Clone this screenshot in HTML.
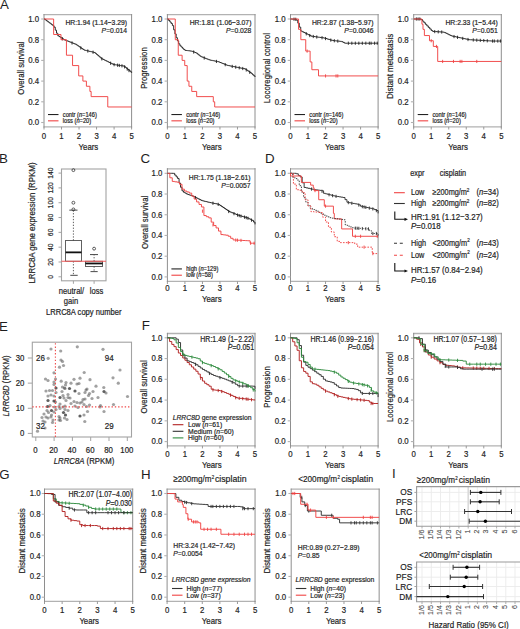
<!DOCTYPE html><html><head><meta charset="utf-8"><style>html,body{margin:0;padding:0;background:#fff;}svg{display:block;}text{font-family:"Liberation Sans", sans-serif;stroke:#1e1e1e;stroke-width:0.18px;paint-order:stroke;}</style></head><body>
<svg width="520" height="629" viewBox="0 0 520 629">
<rect width="520" height="629" fill="#fff"/>
<text font-size="13.3" text-anchor="start" fill="#1e1e1e" transform="translate(0 9.3) scale(1 1)" style="stroke-width:0">A</text>
<text font-size="13.3" text-anchor="start" fill="#1e1e1e" transform="translate(-1 163.4) scale(1 1)" style="stroke-width:0">B</text>
<text font-size="13.3" text-anchor="start" fill="#1e1e1e" transform="translate(140.4 163.1) scale(1 1)" style="stroke-width:0">C</text>
<text font-size="13.3" text-anchor="start" fill="#1e1e1e" transform="translate(265 163.1) scale(1 1)" style="stroke-width:0">D</text>
<text font-size="13.3" text-anchor="start" fill="#1e1e1e" transform="translate(-1 330.8) scale(1 1)" style="stroke-width:0">E</text>
<text font-size="13.3" text-anchor="start" fill="#1e1e1e" transform="translate(141.8 329.9) scale(1 1)" style="stroke-width:0">F</text>
<text font-size="13.3" text-anchor="start" fill="#1e1e1e" transform="translate(-0.7 478.5) scale(1 1)" style="stroke-width:0">G</text>
<text font-size="13.3" text-anchor="start" fill="#1e1e1e" transform="translate(140.9 478.6) scale(1 1)" style="stroke-width:0">H</text>
<text font-size="13.3" text-anchor="start" fill="#1e1e1e" transform="translate(392.1 477.9) scale(1 1)" style="stroke-width:0">I</text>
<line x1="43.5" y1="14.7" x2="132.1" y2="14.7" stroke="#b2b2b2" stroke-width="1.3"/>
<line x1="43.5" y1="126.9" x2="132.1" y2="126.9" stroke="#b2b2b2" stroke-width="1.3"/>
<line x1="44" y1="14.1" x2="44" y2="127.5" stroke="#8e8e8e" stroke-width="1.0"/>
<line x1="131.6" y1="14.1" x2="131.6" y2="127.5" stroke="#8e8e8e" stroke-width="1.0"/>
<line x1="41.2" y1="122.5" x2="44" y2="122.5" stroke="#b2b2b2" stroke-width="1.1"/>
<text font-size="7.8" text-anchor="end" fill="#1e1e1e" transform="translate(39 125.3) scale(1 1.18)">0.0</text>
<line x1="41.2" y1="101.8" x2="44" y2="101.8" stroke="#b2b2b2" stroke-width="1.1"/>
<text font-size="7.8" text-anchor="end" fill="#1e1e1e" transform="translate(39 104.6) scale(1 1.18)">0.2</text>
<line x1="41.2" y1="81.1" x2="44" y2="81.1" stroke="#b2b2b2" stroke-width="1.1"/>
<text font-size="7.8" text-anchor="end" fill="#1e1e1e" transform="translate(39 83.9) scale(1 1.18)">0.4</text>
<line x1="41.2" y1="60.4" x2="44" y2="60.4" stroke="#b2b2b2" stroke-width="1.1"/>
<text font-size="7.8" text-anchor="end" fill="#1e1e1e" transform="translate(39 63.2) scale(1 1.18)">0.6</text>
<line x1="41.2" y1="39.7" x2="44" y2="39.7" stroke="#b2b2b2" stroke-width="1.1"/>
<text font-size="7.8" text-anchor="end" fill="#1e1e1e" transform="translate(39 42.5) scale(1 1.18)">0.8</text>
<line x1="41.2" y1="19" x2="44" y2="19" stroke="#b2b2b2" stroke-width="1.1"/>
<text font-size="7.8" text-anchor="end" fill="#1e1e1e" transform="translate(39 21.8) scale(1 1.18)">1.0</text>
<line x1="44" y1="126.9" x2="44" y2="129.5" stroke="#8e8e8e" stroke-width="0.9"/>
<text font-size="7.8" text-anchor="middle" fill="#1e1e1e" transform="translate(44 139.1) scale(1 1.18)">0</text>
<line x1="61.52" y1="126.9" x2="61.52" y2="129.5" stroke="#8e8e8e" stroke-width="0.9"/>
<text font-size="7.8" text-anchor="middle" fill="#1e1e1e" transform="translate(61.52 139.1) scale(1 1.18)">1</text>
<line x1="79.04" y1="126.9" x2="79.04" y2="129.5" stroke="#8e8e8e" stroke-width="0.9"/>
<text font-size="7.8" text-anchor="middle" fill="#1e1e1e" transform="translate(79.04 139.1) scale(1 1.18)">2</text>
<line x1="96.56" y1="126.9" x2="96.56" y2="129.5" stroke="#8e8e8e" stroke-width="0.9"/>
<text font-size="7.8" text-anchor="middle" fill="#1e1e1e" transform="translate(96.56 139.1) scale(1 1.18)">3</text>
<line x1="114.08" y1="126.9" x2="114.08" y2="129.5" stroke="#8e8e8e" stroke-width="0.9"/>
<text font-size="7.8" text-anchor="middle" fill="#1e1e1e" transform="translate(114.08 139.1) scale(1 1.18)">4</text>
<line x1="131.6" y1="126.9" x2="131.6" y2="129.5" stroke="#8e8e8e" stroke-width="0.9"/>
<text font-size="7.8" text-anchor="middle" fill="#1e1e1e" transform="translate(131.6 139.1) scale(1 1.18)">5</text>
<text font-size="7.8" text-anchor="middle" fill="#1e1e1e" transform="translate(88.4 149.7) scale(1 1.18)">Years</text>
<text font-size="7.8" text-anchor="middle" fill="#1e1e1e" transform="translate(23.7 68.05) rotate(-90) scale(1 1.1)">Overall survival</text>
<line x1="166.9" y1="14.7" x2="255.5" y2="14.7" stroke="#b2b2b2" stroke-width="1.3"/>
<line x1="166.9" y1="126.9" x2="255.5" y2="126.9" stroke="#b2b2b2" stroke-width="1.3"/>
<line x1="167.4" y1="14.1" x2="167.4" y2="127.5" stroke="#8e8e8e" stroke-width="1.0"/>
<line x1="255" y1="14.1" x2="255" y2="127.5" stroke="#8e8e8e" stroke-width="1.0"/>
<line x1="164.6" y1="122.5" x2="167.4" y2="122.5" stroke="#b2b2b2" stroke-width="1.1"/>
<text font-size="7.8" text-anchor="end" fill="#1e1e1e" transform="translate(162.4 125.3) scale(1 1.18)">0.0</text>
<line x1="164.6" y1="101.8" x2="167.4" y2="101.8" stroke="#b2b2b2" stroke-width="1.1"/>
<text font-size="7.8" text-anchor="end" fill="#1e1e1e" transform="translate(162.4 104.6) scale(1 1.18)">0.2</text>
<line x1="164.6" y1="81.1" x2="167.4" y2="81.1" stroke="#b2b2b2" stroke-width="1.1"/>
<text font-size="7.8" text-anchor="end" fill="#1e1e1e" transform="translate(162.4 83.9) scale(1 1.18)">0.4</text>
<line x1="164.6" y1="60.4" x2="167.4" y2="60.4" stroke="#b2b2b2" stroke-width="1.1"/>
<text font-size="7.8" text-anchor="end" fill="#1e1e1e" transform="translate(162.4 63.2) scale(1 1.18)">0.6</text>
<line x1="164.6" y1="39.7" x2="167.4" y2="39.7" stroke="#b2b2b2" stroke-width="1.1"/>
<text font-size="7.8" text-anchor="end" fill="#1e1e1e" transform="translate(162.4 42.5) scale(1 1.18)">0.8</text>
<line x1="164.6" y1="19" x2="167.4" y2="19" stroke="#b2b2b2" stroke-width="1.1"/>
<text font-size="7.8" text-anchor="end" fill="#1e1e1e" transform="translate(162.4 21.8) scale(1 1.18)">1.0</text>
<line x1="167.4" y1="126.9" x2="167.4" y2="129.5" stroke="#8e8e8e" stroke-width="0.9"/>
<text font-size="7.8" text-anchor="middle" fill="#1e1e1e" transform="translate(167.4 139.1) scale(1 1.18)">0</text>
<line x1="184.92" y1="126.9" x2="184.92" y2="129.5" stroke="#8e8e8e" stroke-width="0.9"/>
<text font-size="7.8" text-anchor="middle" fill="#1e1e1e" transform="translate(184.92 139.1) scale(1 1.18)">1</text>
<line x1="202.44" y1="126.9" x2="202.44" y2="129.5" stroke="#8e8e8e" stroke-width="0.9"/>
<text font-size="7.8" text-anchor="middle" fill="#1e1e1e" transform="translate(202.44 139.1) scale(1 1.18)">2</text>
<line x1="219.96" y1="126.9" x2="219.96" y2="129.5" stroke="#8e8e8e" stroke-width="0.9"/>
<text font-size="7.8" text-anchor="middle" fill="#1e1e1e" transform="translate(219.96 139.1) scale(1 1.18)">3</text>
<line x1="237.48" y1="126.9" x2="237.48" y2="129.5" stroke="#8e8e8e" stroke-width="0.9"/>
<text font-size="7.8" text-anchor="middle" fill="#1e1e1e" transform="translate(237.48 139.1) scale(1 1.18)">4</text>
<line x1="255" y1="126.9" x2="255" y2="129.5" stroke="#8e8e8e" stroke-width="0.9"/>
<text font-size="7.8" text-anchor="middle" fill="#1e1e1e" transform="translate(255 139.1) scale(1 1.18)">5</text>
<text font-size="7.8" text-anchor="middle" fill="#1e1e1e" transform="translate(211.8 149.7) scale(1 1.18)">Years</text>
<text font-size="7.8" text-anchor="middle" fill="#1e1e1e" transform="translate(147.1 68.05) rotate(-90) scale(1 1.1)">Progression</text>
<line x1="290" y1="14.7" x2="378.6" y2="14.7" stroke="#b2b2b2" stroke-width="1.3"/>
<line x1="290" y1="126.9" x2="378.6" y2="126.9" stroke="#b2b2b2" stroke-width="1.3"/>
<line x1="290.5" y1="14.1" x2="290.5" y2="127.5" stroke="#8e8e8e" stroke-width="1.0"/>
<line x1="378.1" y1="14.1" x2="378.1" y2="127.5" stroke="#8e8e8e" stroke-width="1.0"/>
<line x1="287.7" y1="122.5" x2="290.5" y2="122.5" stroke="#b2b2b2" stroke-width="1.1"/>
<text font-size="7.8" text-anchor="end" fill="#1e1e1e" transform="translate(285.5 125.3) scale(1 1.18)">0.0</text>
<line x1="287.7" y1="101.8" x2="290.5" y2="101.8" stroke="#b2b2b2" stroke-width="1.1"/>
<text font-size="7.8" text-anchor="end" fill="#1e1e1e" transform="translate(285.5 104.6) scale(1 1.18)">0.2</text>
<line x1="287.7" y1="81.1" x2="290.5" y2="81.1" stroke="#b2b2b2" stroke-width="1.1"/>
<text font-size="7.8" text-anchor="end" fill="#1e1e1e" transform="translate(285.5 83.9) scale(1 1.18)">0.4</text>
<line x1="287.7" y1="60.4" x2="290.5" y2="60.4" stroke="#b2b2b2" stroke-width="1.1"/>
<text font-size="7.8" text-anchor="end" fill="#1e1e1e" transform="translate(285.5 63.2) scale(1 1.18)">0.6</text>
<line x1="287.7" y1="39.7" x2="290.5" y2="39.7" stroke="#b2b2b2" stroke-width="1.1"/>
<text font-size="7.8" text-anchor="end" fill="#1e1e1e" transform="translate(285.5 42.5) scale(1 1.18)">0.8</text>
<line x1="287.7" y1="19" x2="290.5" y2="19" stroke="#b2b2b2" stroke-width="1.1"/>
<text font-size="7.8" text-anchor="end" fill="#1e1e1e" transform="translate(285.5 21.8) scale(1 1.18)">1.0</text>
<line x1="290.5" y1="126.9" x2="290.5" y2="129.5" stroke="#8e8e8e" stroke-width="0.9"/>
<text font-size="7.8" text-anchor="middle" fill="#1e1e1e" transform="translate(290.5 139.1) scale(1 1.18)">0</text>
<line x1="308.02" y1="126.9" x2="308.02" y2="129.5" stroke="#8e8e8e" stroke-width="0.9"/>
<text font-size="7.8" text-anchor="middle" fill="#1e1e1e" transform="translate(308.02 139.1) scale(1 1.18)">1</text>
<line x1="325.54" y1="126.9" x2="325.54" y2="129.5" stroke="#8e8e8e" stroke-width="0.9"/>
<text font-size="7.8" text-anchor="middle" fill="#1e1e1e" transform="translate(325.54 139.1) scale(1 1.18)">2</text>
<line x1="343.06" y1="126.9" x2="343.06" y2="129.5" stroke="#8e8e8e" stroke-width="0.9"/>
<text font-size="7.8" text-anchor="middle" fill="#1e1e1e" transform="translate(343.06 139.1) scale(1 1.18)">3</text>
<line x1="360.58" y1="126.9" x2="360.58" y2="129.5" stroke="#8e8e8e" stroke-width="0.9"/>
<text font-size="7.8" text-anchor="middle" fill="#1e1e1e" transform="translate(360.58 139.1) scale(1 1.18)">4</text>
<line x1="378.1" y1="126.9" x2="378.1" y2="129.5" stroke="#8e8e8e" stroke-width="0.9"/>
<text font-size="7.8" text-anchor="middle" fill="#1e1e1e" transform="translate(378.1 139.1) scale(1 1.18)">5</text>
<text font-size="7.8" text-anchor="middle" fill="#1e1e1e" transform="translate(334.9 149.7) scale(1 1.18)">Years</text>
<text font-size="7.8" text-anchor="middle" fill="#1e1e1e" transform="translate(270.2 68.05) rotate(-90) scale(1 1.1)">Locoregional control</text>
<line x1="413.2" y1="14.7" x2="501.8" y2="14.7" stroke="#b2b2b2" stroke-width="1.3"/>
<line x1="413.2" y1="126.9" x2="501.8" y2="126.9" stroke="#b2b2b2" stroke-width="1.3"/>
<line x1="413.7" y1="14.1" x2="413.7" y2="127.5" stroke="#8e8e8e" stroke-width="1.0"/>
<line x1="501.3" y1="14.1" x2="501.3" y2="127.5" stroke="#8e8e8e" stroke-width="1.0"/>
<line x1="410.9" y1="122.5" x2="413.7" y2="122.5" stroke="#b2b2b2" stroke-width="1.1"/>
<text font-size="7.8" text-anchor="end" fill="#1e1e1e" transform="translate(408.7 125.3) scale(1 1.18)">0.0</text>
<line x1="410.9" y1="101.8" x2="413.7" y2="101.8" stroke="#b2b2b2" stroke-width="1.1"/>
<text font-size="7.8" text-anchor="end" fill="#1e1e1e" transform="translate(408.7 104.6) scale(1 1.18)">0.2</text>
<line x1="410.9" y1="81.1" x2="413.7" y2="81.1" stroke="#b2b2b2" stroke-width="1.1"/>
<text font-size="7.8" text-anchor="end" fill="#1e1e1e" transform="translate(408.7 83.9) scale(1 1.18)">0.4</text>
<line x1="410.9" y1="60.4" x2="413.7" y2="60.4" stroke="#b2b2b2" stroke-width="1.1"/>
<text font-size="7.8" text-anchor="end" fill="#1e1e1e" transform="translate(408.7 63.2) scale(1 1.18)">0.6</text>
<line x1="410.9" y1="39.7" x2="413.7" y2="39.7" stroke="#b2b2b2" stroke-width="1.1"/>
<text font-size="7.8" text-anchor="end" fill="#1e1e1e" transform="translate(408.7 42.5) scale(1 1.18)">0.8</text>
<line x1="410.9" y1="19" x2="413.7" y2="19" stroke="#b2b2b2" stroke-width="1.1"/>
<text font-size="7.8" text-anchor="end" fill="#1e1e1e" transform="translate(408.7 21.8) scale(1 1.18)">1.0</text>
<line x1="413.7" y1="126.9" x2="413.7" y2="129.5" stroke="#8e8e8e" stroke-width="0.9"/>
<text font-size="7.8" text-anchor="middle" fill="#1e1e1e" transform="translate(413.7 139.1) scale(1 1.18)">0</text>
<line x1="431.22" y1="126.9" x2="431.22" y2="129.5" stroke="#8e8e8e" stroke-width="0.9"/>
<text font-size="7.8" text-anchor="middle" fill="#1e1e1e" transform="translate(431.22 139.1) scale(1 1.18)">1</text>
<line x1="448.74" y1="126.9" x2="448.74" y2="129.5" stroke="#8e8e8e" stroke-width="0.9"/>
<text font-size="7.8" text-anchor="middle" fill="#1e1e1e" transform="translate(448.74 139.1) scale(1 1.18)">2</text>
<line x1="466.26" y1="126.9" x2="466.26" y2="129.5" stroke="#8e8e8e" stroke-width="0.9"/>
<text font-size="7.8" text-anchor="middle" fill="#1e1e1e" transform="translate(466.26 139.1) scale(1 1.18)">3</text>
<line x1="483.78" y1="126.9" x2="483.78" y2="129.5" stroke="#8e8e8e" stroke-width="0.9"/>
<text font-size="7.8" text-anchor="middle" fill="#1e1e1e" transform="translate(483.78 139.1) scale(1 1.18)">4</text>
<line x1="501.3" y1="126.9" x2="501.3" y2="129.5" stroke="#8e8e8e" stroke-width="0.9"/>
<text font-size="7.8" text-anchor="middle" fill="#1e1e1e" transform="translate(501.3 139.1) scale(1 1.18)">5</text>
<text font-size="7.8" text-anchor="middle" fill="#1e1e1e" transform="translate(458.1 149.7) scale(1 1.18)">Years</text>
<text font-size="8" text-anchor="middle" fill="#1e1e1e" transform="translate(393.4 66.35) rotate(-90) scale(1 1.1)">Distant metastasis</text>
<path d="M44,19H45.25V19.94H46.5V20.88H47.75V21.82H49.01V22.76H50.26V23.7H51.51V24.65H52.76V25.59H54.01V27.15H55.26V30.18H56.51V33.2H57.77V35.74H59.02V36.56H60.27V37.38H61.52V38.2H62.77V39.03H64.02V39.79H65.27V40.29H66.53V40.78H67.78V41.28H69.03V41.78H70.28V42.27H71.53V42.77H72.78V43.27H74.03V43.76H75.29V44.26H76.54V45.05H77.79V45.91H79.04V46.78H80.29V47.64H81.54V48.51H82.79V49.38H84.05V50.12H85.3V50.41H86.55V50.71H87.8V51H89.05V51.3H90.3V51.59H91.55V51.89H92.81V52.19H94.06V52.48H95.31V53.44H96.56V54.53H97.81V55.63H99.06V56.73H100.31V57.83H101.57V58.76H102.82V59.38H104.07V60H105.32V60.62H106.57V61.25H107.82V61.87H109.07V62.49H110.33V63.11H111.58V63.73H112.83V64.35H114.08V64.67H115.33V64.85H116.58V65.04H117.83V65.22H119.09V65.41H120.34V65.59H121.59V65.78H122.84V65.96H124.09V66.41H125.34V67.48H126.59V68.55H127.85V69.62H129.1V70.68H130.35V71.75H131.6V72.82" fill="none" stroke="#222" stroke-width="0.95" opacity="1"/>
<line x1="62.4" y1="37.18" x2="62.4" y2="40.38" stroke="#222" stroke-width="0.9"/>
<line x1="72.03" y1="41.37" x2="72.03" y2="44.57" stroke="#222" stroke-width="0.9"/>
<line x1="80.79" y1="46.39" x2="80.79" y2="49.59" stroke="#222" stroke-width="0.9"/>
<line x1="87.8" y1="49.4" x2="87.8" y2="52.6" stroke="#222" stroke-width="0.9"/>
<line x1="93.06" y1="50.64" x2="93.06" y2="53.84" stroke="#222" stroke-width="0.9"/>
<line x1="101.82" y1="57.28" x2="101.82" y2="60.48" stroke="#222" stroke-width="0.9"/>
<line x1="110.58" y1="61.63" x2="110.58" y2="64.83" stroke="#222" stroke-width="0.9"/>
<line x1="114.08" y1="63.07" x2="114.08" y2="66.27" stroke="#222" stroke-width="0.9"/>
<line x1="117.58" y1="63.59" x2="117.58" y2="66.79" stroke="#222" stroke-width="0.9"/>
<line x1="119.34" y1="63.85" x2="119.34" y2="67.05" stroke="#222" stroke-width="0.9"/>
<line x1="121.96" y1="64.23" x2="121.96" y2="67.43" stroke="#222" stroke-width="0.9"/>
<line x1="124.59" y1="65.24" x2="124.59" y2="68.44" stroke="#222" stroke-width="0.9"/>
<line x1="127.22" y1="67.48" x2="127.22" y2="70.68" stroke="#222" stroke-width="0.9"/>
<line x1="128.97" y1="68.98" x2="128.97" y2="72.18" stroke="#222" stroke-width="0.9"/>
<path d="M44,19H53.64V34.53H60.99V39.7H66.43V55.22H72.56V65.57H78.69V75.92H82.89V81.1H86.4V86.28H89.9V91.45H91.13V96.62H107.77V106.97H131.6" fill="none" stroke="#f04444" stroke-width="0.95" opacity="1"/>
<text font-size="6.8" text-anchor="end" fill="#1e1e1e" transform="translate(127.1 25) scale(1 1.18)">HR:1.94 (1.14−3.29)</text>
<text font-size="6.8" text-anchor="end" fill="#1e1e1e" transform="translate(127.1 33.2) scale(1 1.18)"><tspan font-style="italic">P</tspan>=0.014</text>
<line x1="48" y1="114.53" x2="58.5" y2="114.53" stroke="#222" stroke-width="1.1"/>
<text font-size="5.7" text-anchor="start" fill="#1e1e1e" transform="translate(62.8 116.53) scale(1 1.18)">contr (<tspan font-style="italic">n</tspan>=146)</text>
<line x1="48" y1="120.83" x2="58.5" y2="120.83" stroke="#f04444" stroke-width="1.1"/>
<text font-size="5.7" text-anchor="start" fill="#1e1e1e" transform="translate(62.8 122.83) scale(1 1.18)">loss (<tspan font-style="italic">n</tspan>=20)</text>
<path d="M167.4,19H168.65V20.51H169.9V22.01H171.15V23.52H172.41V25.61H173.66V29.8H174.91V33.94H176.16V37.71H177.41V40.9H178.66V43.85H179.91V45.76H181.17V47.01H182.42V48.27H183.67V49.53H184.92V50.33H186.17V50.49H187.42V50.65H188.67V50.81H189.93V50.97H191.18V51.14H192.43V51.53H193.68V52.03H194.93V52.54H196.18V53.13H197.43V54.13H198.69V55.14H199.94V56.15H201.19V56.8H202.44V57.3H203.69V57.79H204.94V58.28H206.19V58.77H207.45V59.27H208.7V59.76H209.95V60.12H211.2V60.37H212.45V60.62H213.7V60.88H214.95V61.13H216.21V61.38H217.46V61.63H218.71V62.02H219.96V62.53H221.21V63.03H222.46V63.54H223.71V64.05H224.97V64.56H226.22V65.06H227.47V65.47H228.72V65.72H229.97V65.97H231.22V66.22H232.47V66.47H233.73V66.73H234.98V66.98H236.23V67.23H237.48V67.47H238.73V67.72H239.98V67.97H241.23V68.21H242.49V68.46H243.74V68.7H244.99V69.1H246.24V69.94H247.49V70.78H248.74V71.62H249.99V72.47H251.25V73.59H252.5V74.72H253.75V75.84H255V76.96" fill="none" stroke="#222" stroke-width="0.95" opacity="1"/>
<line x1="193.68" y1="50.43" x2="193.68" y2="53.63" stroke="#222" stroke-width="0.9"/>
<line x1="204.19" y1="56.38" x2="204.19" y2="59.59" stroke="#222" stroke-width="0.9"/>
<line x1="216.46" y1="59.83" x2="216.46" y2="63.03" stroke="#222" stroke-width="0.9"/>
<line x1="225.22" y1="63.06" x2="225.22" y2="66.26" stroke="#222" stroke-width="0.9"/>
<line x1="232.22" y1="64.82" x2="232.22" y2="68.02" stroke="#222" stroke-width="0.9"/>
<line x1="235.73" y1="65.53" x2="235.73" y2="68.73" stroke="#222" stroke-width="0.9"/>
<line x1="239.23" y1="66.22" x2="239.23" y2="69.42" stroke="#222" stroke-width="0.9"/>
<line x1="242.74" y1="66.91" x2="242.74" y2="70.11" stroke="#222" stroke-width="0.9"/>
<line x1="246.24" y1="68.34" x2="246.24" y2="71.54" stroke="#222" stroke-width="0.9"/>
<line x1="249.74" y1="70.69" x2="249.74" y2="73.89" stroke="#222" stroke-width="0.9"/>
<path d="M167.4,19H175.28V39.7H178.26V55.22H182.12V60.4H184.74V65.57H187.2V81.1H188.95V86.28H191.75V91.45H196.66V96.62H213.3V101.8H214.7V106.97H255" fill="none" stroke="#f04444" stroke-width="0.95" opacity="1"/>
<text font-size="6.8" text-anchor="end" fill="#1e1e1e" transform="translate(251.4 25) scale(1 1.18)">HR:1.81 (1.06−3.07)</text>
<text font-size="6.8" text-anchor="end" fill="#1e1e1e" transform="translate(251.4 33.2) scale(1 1.18)"><tspan font-style="italic">P</tspan>=0.028</text>
<line x1="171.4" y1="114.53" x2="181.9" y2="114.53" stroke="#222" stroke-width="1.1"/>
<text font-size="5.7" text-anchor="start" fill="#1e1e1e" transform="translate(186.2 116.53) scale(1 1.18)">contr (<tspan font-style="italic">n</tspan>=146)</text>
<line x1="171.4" y1="120.83" x2="181.9" y2="120.83" stroke="#f04444" stroke-width="1.1"/>
<text font-size="5.7" text-anchor="start" fill="#1e1e1e" transform="translate(186.2 122.83) scale(1 1.18)">loss (<tspan font-style="italic">n</tspan>=20)</text>
<path d="M290.5,19H291.96V19.08H293.42V19.17H294.88V19.25H296.34V20.15H297.8V23.14H299.26V27.14H300.72V31.01H302.18V31.75H303.64V32.48H305.1V33.22H306.56V33.95H308.02V34.69H309.48V35.42H310.94V36.15H312.4V36.38H313.86V36.59H315.32V36.79H316.78V37H318.24V37.21H319.7V37.41H321.16V37.62H322.62V37.82H324.08V38.13H325.54V38.56H327V38.99H328.46V39.42H329.92V39.86H331.38V40.29H332.84V40.59H334.3V40.75H335.76V40.9H337.22V41.05H338.68V41.2H340.14V41.36H341.6V41.69H343.06V42.43H344.52V43.16H345.98V43.22H347.44H348.9H350.36H351.82H353.28H354.74H356.2H357.66H359.12H360.58H362.04H363.5H364.96H366.42H367.88H369.34H370.8H372.26H373.72H375.18H376.64H378.1" fill="none" stroke="#222" stroke-width="0.95" opacity="1"/>
<line x1="294" y1="17.6" x2="294" y2="20.8" stroke="#222" stroke-width="0.9"/>
<line x1="295.76" y1="17.7" x2="295.76" y2="20.9" stroke="#222" stroke-width="0.9"/>
<line x1="306.27" y1="32.21" x2="306.27" y2="35.41" stroke="#222" stroke-width="0.9"/>
<line x1="309.77" y1="33.97" x2="309.77" y2="37.17" stroke="#222" stroke-width="0.9"/>
<line x1="313.28" y1="34.9" x2="313.28" y2="38.1" stroke="#222" stroke-width="0.9"/>
<line x1="316.78" y1="35.4" x2="316.78" y2="38.6" stroke="#222" stroke-width="0.9"/>
<line x1="322.04" y1="36.14" x2="322.04" y2="39.34" stroke="#222" stroke-width="0.9"/>
<line x1="325.54" y1="36.96" x2="325.54" y2="40.16" stroke="#222" stroke-width="0.9"/>
<line x1="330.8" y1="38.51" x2="330.8" y2="41.71" stroke="#222" stroke-width="0.9"/>
<line x1="334.3" y1="39.15" x2="334.3" y2="42.35" stroke="#222" stroke-width="0.9"/>
<line x1="337.8" y1="39.51" x2="337.8" y2="42.71" stroke="#222" stroke-width="0.9"/>
<line x1="348.32" y1="41.62" x2="348.32" y2="44.82" stroke="#222" stroke-width="0.9"/>
<line x1="351.82" y1="41.62" x2="351.82" y2="44.82" stroke="#222" stroke-width="0.9"/>
<line x1="355.32" y1="41.62" x2="355.32" y2="44.82" stroke="#222" stroke-width="0.9"/>
<line x1="358.83" y1="41.62" x2="358.83" y2="44.82" stroke="#222" stroke-width="0.9"/>
<line x1="362.33" y1="41.62" x2="362.33" y2="44.82" stroke="#222" stroke-width="0.9"/>
<line x1="365.84" y1="41.62" x2="365.84" y2="44.82" stroke="#222" stroke-width="0.9"/>
<line x1="369.34" y1="41.62" x2="369.34" y2="44.82" stroke="#222" stroke-width="0.9"/>
<line x1="371.09" y1="41.62" x2="371.09" y2="44.82" stroke="#222" stroke-width="0.9"/>
<line x1="374.6" y1="41.62" x2="374.6" y2="44.82" stroke="#222" stroke-width="0.9"/>
<line x1="377.22" y1="41.62" x2="377.22" y2="44.82" stroke="#222" stroke-width="0.9"/>
<path d="M290.5,19H298.56V29.35H300.84V39.7H305.74V51.09H310.12V61.95H311.87V69.72H318.53V75.92H378.1" fill="none" stroke="#f04444" stroke-width="0.95" opacity="1"/>
<line x1="307.14" y1="49.49" x2="307.14" y2="52.69" stroke="#f04444" stroke-width="0.9"/>
<line x1="325.54" y1="74.33" x2="325.54" y2="77.52" stroke="#f04444" stroke-width="0.9"/>
<line x1="336.05" y1="74.33" x2="336.05" y2="77.52" stroke="#f04444" stroke-width="0.9"/>
<line x1="337.8" y1="74.33" x2="337.8" y2="77.52" stroke="#f04444" stroke-width="0.9"/>
<text font-size="6.8" text-anchor="end" fill="#1e1e1e" transform="translate(373.6 25) scale(1 1.18)">HR:2.87 (1.38−5.97)</text>
<text font-size="6.8" text-anchor="end" fill="#1e1e1e" transform="translate(373.6 33.2) scale(1 1.18)"><tspan font-style="italic">P</tspan>=0.0046</text>
<line x1="294.5" y1="114.53" x2="305" y2="114.53" stroke="#222" stroke-width="1.1"/>
<text font-size="5.7" text-anchor="start" fill="#1e1e1e" transform="translate(309.3 116.53) scale(1 1.18)">contr (<tspan font-style="italic">n</tspan>=146)</text>
<line x1="294.5" y1="120.83" x2="305" y2="120.83" stroke="#f04444" stroke-width="1.1"/>
<text font-size="5.7" text-anchor="start" fill="#1e1e1e" transform="translate(309.3 122.83) scale(1 1.18)">loss (<tspan font-style="italic">n</tspan>=20)</text>
<path d="M413.7,19H415.16H416.62H418.08H419.54H421V19.51H422.46V21.12H423.92V22.73H425.38V24.33H426.84V25.88H428.3V27.42H429.76V28.96H431.22V30.5H432.68V31.46H434.14V31.55H435.6V31.64H437.06V31.74H438.52V31.83H439.98V31.92H441.44V32.01H442.9V32.11H444.36V32.58H445.82V33.3H447.28V34.03H448.74V34.76H450.2V35.48H451.66V36.07H453.12V36.39H454.58V36.7H456.04V37.01H457.5V37.32H458.96V37.63H460.42V37.94H461.88V38.25H463.34V38.57H464.8V38.87H466.26V39.16H467.72V39.46H469.18V39.72H470.64V39.8H472.1V39.89H473.56V39.97H475.02V40.06H476.48V40.15H477.94V40.23H479.4V40.32H480.86V40.4H482.32V40.49H483.78V40.57H485.24V40.66H486.7V40.74H488.16V40.83H489.62V40.92H491.08V41H492.54V41.05H494H495.46H496.92H498.38H499.84H501.3" fill="none" stroke="#222" stroke-width="0.95" opacity="1"/>
<line x1="416.33" y1="17.4" x2="416.33" y2="20.6" stroke="#222" stroke-width="0.9"/>
<line x1="418.08" y1="17.4" x2="418.08" y2="20.6" stroke="#222" stroke-width="0.9"/>
<line x1="419.83" y1="17.4" x2="419.83" y2="20.6" stroke="#222" stroke-width="0.9"/>
<line x1="434.72" y1="29.99" x2="434.72" y2="33.19" stroke="#222" stroke-width="0.9"/>
<line x1="438.23" y1="30.21" x2="438.23" y2="33.41" stroke="#222" stroke-width="0.9"/>
<line x1="441.73" y1="30.43" x2="441.73" y2="33.63" stroke="#222" stroke-width="0.9"/>
<line x1="454" y1="34.97" x2="454" y2="38.17" stroke="#222" stroke-width="0.9"/>
<line x1="457.5" y1="35.72" x2="457.5" y2="38.92" stroke="#222" stroke-width="0.9"/>
<line x1="462.76" y1="36.84" x2="462.76" y2="40.04" stroke="#222" stroke-width="0.9"/>
<line x1="468.01" y1="37.92" x2="468.01" y2="41.12" stroke="#222" stroke-width="0.9"/>
<line x1="473.27" y1="38.36" x2="473.27" y2="41.56" stroke="#222" stroke-width="0.9"/>
<line x1="476.77" y1="38.56" x2="476.77" y2="41.76" stroke="#222" stroke-width="0.9"/>
<line x1="480.28" y1="38.77" x2="480.28" y2="41.97" stroke="#222" stroke-width="0.9"/>
<line x1="483.78" y1="38.97" x2="483.78" y2="42.17" stroke="#222" stroke-width="0.9"/>
<line x1="487.28" y1="39.18" x2="487.28" y2="42.38" stroke="#222" stroke-width="0.9"/>
<line x1="492.54" y1="39.45" x2="492.54" y2="42.65" stroke="#222" stroke-width="0.9"/>
<line x1="494.29" y1="39.45" x2="494.29" y2="42.65" stroke="#222" stroke-width="0.9"/>
<line x1="497.8" y1="39.45" x2="497.8" y2="42.65" stroke="#222" stroke-width="0.9"/>
<line x1="500.42" y1="39.45" x2="500.42" y2="42.65" stroke="#222" stroke-width="0.9"/>
<path d="M413.7,19H421.93V24.18H422.99V29.35H424.39V35.56H429.47V40.73H433.32V46.43H437.7V61.44H501.3" fill="none" stroke="#f04444" stroke-width="0.95" opacity="1"/>
<line x1="431.22" y1="39.13" x2="431.22" y2="42.34" stroke="#f04444" stroke-width="0.9"/>
<line x1="436.48" y1="44.83" x2="436.48" y2="48.03" stroke="#f04444" stroke-width="0.9"/>
<line x1="442.61" y1="59.84" x2="442.61" y2="63.04" stroke="#f04444" stroke-width="0.9"/>
<line x1="453.47" y1="59.84" x2="453.47" y2="63.04" stroke="#f04444" stroke-width="0.9"/>
<line x1="460.13" y1="59.84" x2="460.13" y2="63.04" stroke="#f04444" stroke-width="0.9"/>
<line x1="461.88" y1="59.84" x2="461.88" y2="63.04" stroke="#f04444" stroke-width="0.9"/>
<line x1="476.77" y1="59.84" x2="476.77" y2="63.04" stroke="#f04444" stroke-width="0.9"/>
<text font-size="6.8" text-anchor="end" fill="#1e1e1e" transform="translate(497.7 25) scale(1 1.18)">HR:2.33 (1−5.44)</text>
<text font-size="6.8" text-anchor="end" fill="#1e1e1e" transform="translate(497.7 33.2) scale(1 1.18)"><tspan font-style="italic">P</tspan>=0.051</text>
<line x1="417.7" y1="114.53" x2="428.2" y2="114.53" stroke="#222" stroke-width="1.1"/>
<text font-size="5.7" text-anchor="start" fill="#1e1e1e" transform="translate(432.5 116.53) scale(1 1.18)">contr (<tspan font-style="italic">n</tspan>=146)</text>
<line x1="417.7" y1="120.83" x2="428.2" y2="120.83" stroke="#f04444" stroke-width="1.1"/>
<text font-size="5.7" text-anchor="start" fill="#1e1e1e" transform="translate(432.5 122.83) scale(1 1.18)">loss (<tspan font-style="italic">n</tspan>=20)</text>
<rect x="61.5" y="169" width="44.5" height="111.8" fill="none" stroke="#a3a3a3" stroke-width="1.1"/>
<line x1="58.5" y1="276.8" x2="61.5" y2="276.8" stroke="#a3a3a3" stroke-width="1"/>
<text font-size="6.8" text-anchor="middle" fill="#1e1e1e" transform="translate(53.2 276.8) rotate(-90) scale(1 1.1)">0</text>
<line x1="58.5" y1="261.99" x2="61.5" y2="261.99" stroke="#a3a3a3" stroke-width="1"/>
<text font-size="6.8" text-anchor="middle" fill="#1e1e1e" transform="translate(53.2 261.99) rotate(-90) scale(1 1.1)">20</text>
<line x1="58.5" y1="247.17" x2="61.5" y2="247.17" stroke="#a3a3a3" stroke-width="1"/>
<text font-size="6.8" text-anchor="middle" fill="#1e1e1e" transform="translate(53.2 247.17) rotate(-90) scale(1 1.1)">40</text>
<line x1="58.5" y1="232.36" x2="61.5" y2="232.36" stroke="#a3a3a3" stroke-width="1"/>
<text font-size="6.8" text-anchor="middle" fill="#1e1e1e" transform="translate(53.2 232.36) rotate(-90) scale(1 1.1)">60</text>
<line x1="58.5" y1="217.54" x2="61.5" y2="217.54" stroke="#a3a3a3" stroke-width="1"/>
<text font-size="6.8" text-anchor="middle" fill="#1e1e1e" transform="translate(53.2 217.54) rotate(-90) scale(1 1.1)">80</text>
<line x1="58.5" y1="202.73" x2="61.5" y2="202.73" stroke="#a3a3a3" stroke-width="1"/>
<text font-size="6.8" text-anchor="middle" fill="#1e1e1e" transform="translate(53.2 202.73) rotate(-90) scale(1 1.1)">100</text>
<line x1="58.5" y1="187.91" x2="61.5" y2="187.91" stroke="#a3a3a3" stroke-width="1"/>
<text font-size="6.8" text-anchor="middle" fill="#1e1e1e" transform="translate(53.2 187.91) rotate(-90) scale(1 1.1)">120</text>
<line x1="58.5" y1="173.1" x2="61.5" y2="173.1" stroke="#a3a3a3" stroke-width="1"/>
<text font-size="6.8" text-anchor="middle" fill="#1e1e1e" transform="translate(53.2 173.1) rotate(-90) scale(1 1.1)">140</text>
<line x1="73.4" y1="240.5" x2="73.4" y2="210.14" stroke="#333" stroke-width="0.8" stroke-dasharray="1.3,1.6"/>
<line x1="73.4" y1="261.25" x2="73.4" y2="275.32" stroke="#333" stroke-width="0.8" stroke-dasharray="1.3,1.6"/>
<line x1="69.3" y1="210.14" x2="77.5" y2="210.14" stroke="#333" stroke-width="0.9"/>
<line x1="70.3" y1="275.32" x2="77.7" y2="275.32" stroke="#333" stroke-width="0.9"/>
<rect x="65.6" y="240.5" width="15.9" height="20.74" fill="none" stroke="#3a3a3a" stroke-width="0.8"/>
<line x1="65.6" y1="252.36" x2="81.5" y2="252.36" stroke="#111" stroke-width="1.8"/>
<circle cx="73.4" cy="209.4" r="1.45" fill="none" stroke="#333" stroke-width="0.8"/>
<circle cx="73.4" cy="202.73" r="1.45" fill="none" stroke="#333" stroke-width="0.8"/>
<circle cx="73.4" cy="170.14" r="1.45" fill="none" stroke="#333" stroke-width="0.8"/>
<line x1="94.1" y1="261.25" x2="94.1" y2="254.58" stroke="#333" stroke-width="0.8" stroke-dasharray="1.3,1.6"/>
<line x1="94.1" y1="266.43" x2="94.1" y2="271.62" stroke="#333" stroke-width="0.8" stroke-dasharray="1.3,1.6"/>
<line x1="90" y1="254.58" x2="98" y2="254.58" stroke="#333" stroke-width="0.9"/>
<line x1="90.5" y1="271.62" x2="97.7" y2="271.62" stroke="#333" stroke-width="0.9"/>
<rect x="85.4" y="261.25" width="17.2" height="5.19" fill="none" stroke="#3a3a3a" stroke-width="0.8"/>
<line x1="85.4" y1="263.47" x2="102.6" y2="263.47" stroke="#111" stroke-width="1.8"/>
<circle cx="94.1" cy="248.65" r="1.45" fill="none" stroke="#333" stroke-width="0.8"/>
<line x1="61.5" y1="261.3" x2="106" y2="261.3" stroke="#f25a5a" stroke-width="1.1"/>
<line x1="73.4" y1="280.8" x2="73.4" y2="283.8" stroke="#a3a3a3" stroke-width="1"/>
<line x1="94.1" y1="280.8" x2="94.1" y2="283.8" stroke="#a3a3a3" stroke-width="1"/>
<text font-size="7.6" text-anchor="middle" fill="#1e1e1e" transform="translate(71.5 294.2) scale(1 1.18)">neutral/</text>
<text font-size="7.6" text-anchor="middle" fill="#1e1e1e" transform="translate(71 303.8) scale(1 1.18)">gain</text>
<text font-size="7.6" text-anchor="middle" fill="#1e1e1e" transform="translate(96.5 294.2) scale(1 1.18)">loss</text>
<text font-size="7.6" text-anchor="middle" fill="#1e1e1e" transform="translate(83.7 315.2) scale(1 1.18)">LRRC8A copy number</text>
<text font-size="7.9" text-anchor="middle" fill="#1e1e1e" transform="translate(34.6 223) rotate(-90) scale(1 1.1)">LRRC8A gene expression (RPKM)</text>
<line x1="166.9" y1="168.8" x2="255.5" y2="168.8" stroke="#b2b2b2" stroke-width="1.3"/>
<line x1="166.9" y1="281.4" x2="255.5" y2="281.4" stroke="#b2b2b2" stroke-width="1.3"/>
<line x1="167.4" y1="168.2" x2="167.4" y2="282" stroke="#8e8e8e" stroke-width="1.0"/>
<line x1="255" y1="168.2" x2="255" y2="282" stroke="#8e8e8e" stroke-width="1.0"/>
<line x1="164.6" y1="276.9" x2="167.4" y2="276.9" stroke="#b2b2b2" stroke-width="1.1"/>
<text font-size="7.8" text-anchor="end" fill="#1e1e1e" transform="translate(162.4 279.7) scale(1 1.18)">0.0</text>
<line x1="164.6" y1="256.18" x2="167.4" y2="256.18" stroke="#b2b2b2" stroke-width="1.1"/>
<text font-size="7.8" text-anchor="end" fill="#1e1e1e" transform="translate(162.4 258.98) scale(1 1.18)">0.2</text>
<line x1="164.6" y1="235.46" x2="167.4" y2="235.46" stroke="#b2b2b2" stroke-width="1.1"/>
<text font-size="7.8" text-anchor="end" fill="#1e1e1e" transform="translate(162.4 238.26) scale(1 1.18)">0.4</text>
<line x1="164.6" y1="214.74" x2="167.4" y2="214.74" stroke="#b2b2b2" stroke-width="1.1"/>
<text font-size="7.8" text-anchor="end" fill="#1e1e1e" transform="translate(162.4 217.54) scale(1 1.18)">0.6</text>
<line x1="164.6" y1="194.02" x2="167.4" y2="194.02" stroke="#b2b2b2" stroke-width="1.1"/>
<text font-size="7.8" text-anchor="end" fill="#1e1e1e" transform="translate(162.4 196.82) scale(1 1.18)">0.8</text>
<line x1="164.6" y1="173.3" x2="167.4" y2="173.3" stroke="#b2b2b2" stroke-width="1.1"/>
<text font-size="7.8" text-anchor="end" fill="#1e1e1e" transform="translate(162.4 176.1) scale(1 1.18)">1.0</text>
<line x1="167.4" y1="281.4" x2="167.4" y2="284" stroke="#8e8e8e" stroke-width="0.9"/>
<text font-size="7.8" text-anchor="middle" fill="#1e1e1e" transform="translate(167.4 291.1) scale(1 1.18)">0</text>
<line x1="184.92" y1="281.4" x2="184.92" y2="284" stroke="#8e8e8e" stroke-width="0.9"/>
<text font-size="7.8" text-anchor="middle" fill="#1e1e1e" transform="translate(184.92 291.1) scale(1 1.18)">1</text>
<line x1="202.44" y1="281.4" x2="202.44" y2="284" stroke="#8e8e8e" stroke-width="0.9"/>
<text font-size="7.8" text-anchor="middle" fill="#1e1e1e" transform="translate(202.44 291.1) scale(1 1.18)">2</text>
<line x1="219.96" y1="281.4" x2="219.96" y2="284" stroke="#8e8e8e" stroke-width="0.9"/>
<text font-size="7.8" text-anchor="middle" fill="#1e1e1e" transform="translate(219.96 291.1) scale(1 1.18)">3</text>
<line x1="237.48" y1="281.4" x2="237.48" y2="284" stroke="#8e8e8e" stroke-width="0.9"/>
<text font-size="7.8" text-anchor="middle" fill="#1e1e1e" transform="translate(237.48 291.1) scale(1 1.18)">4</text>
<line x1="255" y1="281.4" x2="255" y2="284" stroke="#8e8e8e" stroke-width="0.9"/>
<text font-size="7.8" text-anchor="middle" fill="#1e1e1e" transform="translate(255 291.1) scale(1 1.18)">5</text>
<text font-size="7.8" text-anchor="middle" fill="#1e1e1e" transform="translate(211.8 301.8) scale(1 1.18)">Years</text>
<text font-size="7.8" text-anchor="middle" fill="#1e1e1e" transform="translate(147.7 222.4) rotate(-90) scale(1 1.1)">Overall survival</text>
<path d="M167.4,173.3H168.86H170.32H171.78H173.24V173.37H174.7V175.1H176.16V176.82H177.62V178.55H179.08V183.16H180.54V187.25H182V190.82H183.46V192.22H184.92V193.09H186.38V193.95H187.84V194.56H189.3V195.04H190.76V195.53H192.22V196.01H193.68V196.71H195.14V197.44H196.6V198.17H198.06V198.9H199.52V199.63H200.98V200.36H202.44V200.86H203.9V201.21H205.36V201.56H206.82V201.91H208.28V202.26H209.74V202.58H211.2V202.88H212.66V203.18H214.12V203.48H215.58V203.77H217.04V204.07H218.5V204.59H219.96V205.56H221.42V206.54H222.88V207.51H224.34V208.5H225.8V209.51H227.26V210.51H228.72V211.51H230.18V212.14H231.64V212.72H233.1V213.31H234.56V213.89H236.02V214.47H237.48V215.05H238.94V215.53H240.4V215.95H241.86V216.38H243.32V216.8H244.78V217.22H246.24V217.65H247.7V218.16H249.16V218.91H250.62V219.67H252.08V220.42H253.54V222.05H255V224.37" fill="none" stroke="#222" stroke-width="0.95" opacity="1"/>
<line x1="195.43" y1="195.98" x2="195.43" y2="199.18" stroke="#222" stroke-width="0.9"/>
<line x1="212.95" y1="201.64" x2="212.95" y2="204.84" stroke="#222" stroke-width="0.9"/>
<line x1="218.21" y1="202.79" x2="218.21" y2="205.99" stroke="#222" stroke-width="0.9"/>
<line x1="228.72" y1="209.91" x2="228.72" y2="213.11" stroke="#222" stroke-width="0.9"/>
<line x1="233.98" y1="212.05" x2="233.98" y2="215.25" stroke="#222" stroke-width="0.9"/>
<line x1="237.48" y1="213.45" x2="237.48" y2="216.65" stroke="#222" stroke-width="0.9"/>
<line x1="239.23" y1="214.01" x2="239.23" y2="217.21" stroke="#222" stroke-width="0.9"/>
<line x1="240.98" y1="214.52" x2="240.98" y2="217.72" stroke="#222" stroke-width="0.9"/>
<line x1="244.49" y1="215.54" x2="244.49" y2="218.74" stroke="#222" stroke-width="0.9"/>
<line x1="246.24" y1="216.05" x2="246.24" y2="219.25" stroke="#222" stroke-width="0.9"/>
<line x1="247.99" y1="216.71" x2="247.99" y2="219.91" stroke="#222" stroke-width="0.9"/>
<line x1="251.5" y1="218.52" x2="251.5" y2="221.72" stroke="#222" stroke-width="0.9"/>
<path d="M167.4,173.3H169.83V177.79H172.27V181.43H174.7V181.83H177.13V182.18H179.57V184.29H182V189.18H184.43V191.03H186.87V191.98H189.3V193.12H191.73V196.13H194.17V199.05H196.6V201.93H199.03V204.48H201.47V206.97H203.9V215.54H206.33V216.71H208.77V217.88H211.2V222.13H213.63V225.56H216.07V227.94H218.5V231.08H220.93V234.57H223.37V234.88H225.8V235.19H228.23V236.27H230.67V238.31H233.1V239.94H235.53V240.08H237.97V240.22H240.4V240.36H242.83V240.5H245.27V240.63H247.7V240.77H250.13V243.23H252.57H255" fill="none" stroke="#f04444" stroke-width="0.95" opacity="1"/>
<line x1="202.44" y1="209.57" x2="202.44" y2="212.77" stroke="#f04444" stroke-width="0.9"/>
<line x1="212.95" y1="223.29" x2="212.95" y2="226.49" stroke="#f04444" stroke-width="0.9"/>
<line x1="235.73" y1="238.49" x2="235.73" y2="241.69" stroke="#f04444" stroke-width="0.9"/>
<line x1="237.48" y1="238.59" x2="237.48" y2="241.79" stroke="#f04444" stroke-width="0.9"/>
<line x1="240.98" y1="238.79" x2="240.98" y2="241.99" stroke="#f04444" stroke-width="0.9"/>
<line x1="250.62" y1="241.63" x2="250.62" y2="244.83" stroke="#f04444" stroke-width="0.9"/>
<line x1="254.12" y1="241.63" x2="254.12" y2="244.83" stroke="#f04444" stroke-width="0.9"/>
<text font-size="6.8" text-anchor="end" fill="#1e1e1e" transform="translate(250.5 180) scale(1 1.18)">HR:1.75 (1.18−2.61)</text>
<text font-size="6.8" text-anchor="end" fill="#1e1e1e" transform="translate(250.5 187.6) scale(1 1.18)"><tspan font-style="italic">P</tspan>=0.0057</text>
<line x1="171.4" y1="268.92" x2="181.9" y2="268.92" stroke="#222" stroke-width="1.1"/>
<text font-size="5.7" text-anchor="start" fill="#1e1e1e" transform="translate(186.2 270.92) scale(1 1.18)">high (<tspan font-style="italic">n</tspan>=129)</text>
<line x1="171.4" y1="275.22" x2="181.9" y2="275.22" stroke="#f04444" stroke-width="1.1"/>
<text font-size="5.7" text-anchor="start" fill="#1e1e1e" transform="translate(186.2 277.22) scale(1 1.18)">low (<tspan font-style="italic">n</tspan>=58)</text>
<line x1="290" y1="168.8" x2="378.6" y2="168.8" stroke="#b2b2b2" stroke-width="1.3"/>
<line x1="290" y1="281.4" x2="378.6" y2="281.4" stroke="#b2b2b2" stroke-width="1.3"/>
<line x1="290.5" y1="168.2" x2="290.5" y2="282" stroke="#8e8e8e" stroke-width="1.0"/>
<line x1="378.1" y1="168.2" x2="378.1" y2="282" stroke="#8e8e8e" stroke-width="1.0"/>
<line x1="287.7" y1="276.9" x2="290.5" y2="276.9" stroke="#b2b2b2" stroke-width="1.1"/>
<text font-size="7.8" text-anchor="end" fill="#1e1e1e" transform="translate(285.5 279.7) scale(1 1.18)">0.0</text>
<line x1="287.7" y1="256.18" x2="290.5" y2="256.18" stroke="#b2b2b2" stroke-width="1.1"/>
<text font-size="7.8" text-anchor="end" fill="#1e1e1e" transform="translate(285.5 258.98) scale(1 1.18)">0.2</text>
<line x1="287.7" y1="235.46" x2="290.5" y2="235.46" stroke="#b2b2b2" stroke-width="1.1"/>
<text font-size="7.8" text-anchor="end" fill="#1e1e1e" transform="translate(285.5 238.26) scale(1 1.18)">0.4</text>
<line x1="287.7" y1="214.74" x2="290.5" y2="214.74" stroke="#b2b2b2" stroke-width="1.1"/>
<text font-size="7.8" text-anchor="end" fill="#1e1e1e" transform="translate(285.5 217.54) scale(1 1.18)">0.6</text>
<line x1="287.7" y1="194.02" x2="290.5" y2="194.02" stroke="#b2b2b2" stroke-width="1.1"/>
<text font-size="7.8" text-anchor="end" fill="#1e1e1e" transform="translate(285.5 196.82) scale(1 1.18)">0.8</text>
<line x1="287.7" y1="173.3" x2="290.5" y2="173.3" stroke="#b2b2b2" stroke-width="1.1"/>
<text font-size="7.8" text-anchor="end" fill="#1e1e1e" transform="translate(285.5 176.1) scale(1 1.18)">1.0</text>
<line x1="290.5" y1="281.4" x2="290.5" y2="284" stroke="#8e8e8e" stroke-width="0.9"/>
<text font-size="7.8" text-anchor="middle" fill="#1e1e1e" transform="translate(290.5 291.1) scale(1 1.18)">0</text>
<line x1="308.02" y1="281.4" x2="308.02" y2="284" stroke="#8e8e8e" stroke-width="0.9"/>
<text font-size="7.8" text-anchor="middle" fill="#1e1e1e" transform="translate(308.02 291.1) scale(1 1.18)">1</text>
<line x1="325.54" y1="281.4" x2="325.54" y2="284" stroke="#8e8e8e" stroke-width="0.9"/>
<text font-size="7.8" text-anchor="middle" fill="#1e1e1e" transform="translate(325.54 291.1) scale(1 1.18)">2</text>
<line x1="343.06" y1="281.4" x2="343.06" y2="284" stroke="#8e8e8e" stroke-width="0.9"/>
<text font-size="7.8" text-anchor="middle" fill="#1e1e1e" transform="translate(343.06 291.1) scale(1 1.18)">3</text>
<line x1="360.58" y1="281.4" x2="360.58" y2="284" stroke="#8e8e8e" stroke-width="0.9"/>
<text font-size="7.8" text-anchor="middle" fill="#1e1e1e" transform="translate(360.58 291.1) scale(1 1.18)">4</text>
<line x1="378.1" y1="281.4" x2="378.1" y2="284" stroke="#8e8e8e" stroke-width="0.9"/>
<text font-size="7.8" text-anchor="middle" fill="#1e1e1e" transform="translate(378.1 291.1) scale(1 1.18)">5</text>
<text font-size="7.8" text-anchor="middle" fill="#1e1e1e" transform="translate(334.9 301.8) scale(1 1.18)">Years</text>
<path d="M290.5,173.3H292.45H294.39H296.34V173.78H298.29V175.48H300.23V176.99H302.18V182.77H304.13V187.47H306.07V187.9H308.02V188.32H309.97V188.75H311.91V189.18H313.86V189.6H315.81V189.88H317.75V190.13H319.7V190.37H321.65V190.79H323.59V193.33H325.54V193.84H327.49V194.34H329.43V194.84H331.38V195.34H333.33V195.84H335.27V196.25H337.22V196.56H339.17V196.87H341.11V197.18H343.06V197.49H345.01V199.65H346.95V202.23H348.9V202.73H350.85V203.08H352.79V203.43H354.74V203.78H356.69V204.12H358.63V204.89H360.58V206.29H362.53V206.7H364.47V207.11H366.42V207.52H368.37V207.93H370.31V208.34H372.26V208.75H374.21V209.57H376.15V210.5H378.1V213.39" fill="none" stroke="#333" stroke-width="0.95" opacity="1"/>
<line x1="311.52" y1="187.49" x2="311.52" y2="190.69" stroke="#333" stroke-width="0.9"/>
<line x1="322.04" y1="189.74" x2="322.04" y2="192.94" stroke="#333" stroke-width="0.9"/>
<line x1="329.04" y1="193.14" x2="329.04" y2="196.34" stroke="#333" stroke-width="0.9"/>
<line x1="332.55" y1="194.04" x2="332.55" y2="197.24" stroke="#333" stroke-width="0.9"/>
<line x1="336.05" y1="194.77" x2="336.05" y2="197.97" stroke="#333" stroke-width="0.9"/>
<line x1="348.32" y1="201.03" x2="348.32" y2="204.23" stroke="#333" stroke-width="0.9"/>
<line x1="351.82" y1="201.66" x2="351.82" y2="204.86" stroke="#333" stroke-width="0.9"/>
<line x1="358.83" y1="203.48" x2="358.83" y2="206.68" stroke="#333" stroke-width="0.9"/>
<line x1="362.33" y1="205.06" x2="362.33" y2="208.26" stroke="#333" stroke-width="0.9"/>
<line x1="364.08" y1="205.43" x2="364.08" y2="208.63" stroke="#333" stroke-width="0.9"/>
<line x1="365.84" y1="205.8" x2="365.84" y2="209" stroke="#333" stroke-width="0.9"/>
<line x1="369.34" y1="206.53" x2="369.34" y2="209.73" stroke="#333" stroke-width="0.9"/>
<line x1="372.84" y1="207.32" x2="372.84" y2="210.52" stroke="#333" stroke-width="0.9"/>
<line x1="376.35" y1="209" x2="376.35" y2="212.2" stroke="#333" stroke-width="0.9"/>
<path d="M290.5,173.3H290.5V175.99H301.36V182.42H310.65V185.11H313.28V187.8H314.15V190.6H318.71V199.72H324.31V206.14H333.42V213.39H334.3V218.88H341.66V228.93H352.52V236.29H378.1" fill="none" stroke="#f04444" stroke-width="0.95" opacity="1"/>
<line x1="315.03" y1="189" x2="315.03" y2="192.2" stroke="#f04444" stroke-width="0.9"/>
<line x1="325.54" y1="204.54" x2="325.54" y2="207.74" stroke="#f04444" stroke-width="0.9"/>
<line x1="355.32" y1="234.69" x2="355.32" y2="237.89" stroke="#f04444" stroke-width="0.9"/>
<line x1="360.58" y1="234.69" x2="360.58" y2="237.89" stroke="#f04444" stroke-width="0.9"/>
<line x1="377.22" y1="234.69" x2="377.22" y2="237.89" stroke="#f04444" stroke-width="0.9"/>
<path d="M290.5,173.3H292.69V177.21H294.88V178.63H297.07V180.04H299.26V185.69H301.45V192H303.64V197.72H305.83V202.1H308.02V205.65H310.21V208.3H312.4V209.52H314.59V210.37H316.78V211.22H318.97V212.37H321.16V213.78H323.35V215.2H325.54V216.05H327.73V216.87H329.92V217.69H332.11V218.17H334.3V218.49H336.49V218.81H338.68V219.13H340.87V219.45H343.06V219.77H345.25V225.06H347.44V226.1H349.63V226.92H351.82V227.74H354.01V228.09H356.2V228.21H358.39V228.33H360.58V228.46H362.77V228.58H364.96V228.71H367.15V228.83H369.34V230.76H371.53V233.49H373.72H375.91H378.1V237.12" fill="none" stroke="#333" stroke-width="0.95" stroke-dasharray="1.4,1.3" opacity="1"/>
<line x1="355.32" y1="226.56" x2="355.32" y2="229.76" stroke="#333" stroke-width="0.9"/>
<line x1="357.08" y1="226.66" x2="357.08" y2="229.86" stroke="#333" stroke-width="0.9"/>
<line x1="358.83" y1="226.76" x2="358.83" y2="229.96" stroke="#333" stroke-width="0.9"/>
<line x1="362.33" y1="226.96" x2="362.33" y2="230.16" stroke="#333" stroke-width="0.9"/>
<line x1="365.84" y1="227.15" x2="365.84" y2="230.35" stroke="#333" stroke-width="0.9"/>
<line x1="368.46" y1="227.3" x2="368.46" y2="230.5" stroke="#333" stroke-width="0.9"/>
<line x1="372.84" y1="231.89" x2="372.84" y2="235.09" stroke="#333" stroke-width="0.9"/>
<line x1="376.35" y1="231.89" x2="376.35" y2="235.09" stroke="#333" stroke-width="0.9"/>
<path d="M290.5,173.3H293.42V184.08H296.34V189.74H299.26V190.24H302.18V192.63H305.1V199.84H308.02V206.05H310.94V211.66H313.86V211.96H316.78V212.26H319.7V212.56H322.62V217.12H325.54V222.02H328.46V227.27H331.38V232.03H334.3V236.71H337.22V241.39H340.14V242.61H343.06H345.98H348.9H351.82H354.74V244.13H357.66V247.17H360.58H363.5H366.42H369.34H372.26V253.59H375.18H378.1" fill="none" stroke="#f04444" stroke-width="0.95" stroke-dasharray="1.6,1.3" opacity="1"/>
<line x1="348.32" y1="241.01" x2="348.32" y2="244.21" stroke="#f04444" stroke-width="0.9"/>
<line x1="364.08" y1="245.57" x2="364.08" y2="248.77" stroke="#f04444" stroke-width="0.9"/>
<line x1="372.84" y1="251.99" x2="372.84" y2="255.19" stroke="#f04444" stroke-width="0.9"/>
<text font-size="7.3" text-anchor="start" fill="#1e1e1e" transform="translate(410.2 176.3) scale(1 1.18)">expr</text>
<text font-size="7.3" text-anchor="start" fill="#1e1e1e" transform="translate(439.8 176.3) scale(1 1.18)">cisplatin</text>
<line x1="394" y1="192.7" x2="404.8" y2="192.7" stroke="#f04444" stroke-width="1.1"/>
<text font-size="7.3" text-anchor="start" fill="#1e1e1e" transform="translate(411 195.3) scale(1 1.18)">Low</text>
<text font-size="7.3" text-anchor="start" fill="#1e1e1e" transform="translate(432.5 195.3) scale(1 1.18)">≥200mg/m<tspan font-size="4.6" dy="-3">2</tspan></text>
<text font-size="7.7" text-anchor="start" fill="#1e1e1e" transform="translate(476.4 195.3) scale(1 1.18)">(<tspan font-style="italic">n</tspan>=34)</text>
<line x1="394" y1="203.5" x2="404.8" y2="203.5" stroke="#333" stroke-width="1.1"/>
<text font-size="7.3" text-anchor="start" fill="#1e1e1e" transform="translate(411 206.1) scale(1 1.18)">High</text>
<text font-size="7.3" text-anchor="start" fill="#1e1e1e" transform="translate(432.5 206.1) scale(1 1.18)">≥200mg/m<tspan font-size="4.6" dy="-3">2</tspan></text>
<text font-size="7.7" text-anchor="start" fill="#1e1e1e" transform="translate(476.4 206.1) scale(1 1.18)">(<tspan font-style="italic">n</tspan>=82)</text>
<line x1="394" y1="243.3" x2="404.8" y2="243.3" stroke="#333" stroke-width="1.1" stroke-dasharray="3,2.8"/>
<text font-size="7.3" text-anchor="start" fill="#1e1e1e" transform="translate(411 245.9) scale(1 1.18)">High</text>
<text font-size="7.3" text-anchor="start" fill="#1e1e1e" transform="translate(432.5 245.9) scale(1 1.18)">&lt;200mg/m<tspan font-size="4.6" dy="-3">2</tspan></text>
<text font-size="7.7" text-anchor="start" fill="#1e1e1e" transform="translate(476.4 245.9) scale(1 1.18)">(<tspan font-style="italic">n</tspan>=43)</text>
<line x1="394" y1="255.2" x2="404.8" y2="255.2" stroke="#f04444" stroke-width="1.1" stroke-dasharray="3,2.8"/>
<text font-size="7.3" text-anchor="start" fill="#1e1e1e" transform="translate(411 257.8) scale(1 1.18)">Low</text>
<text font-size="7.3" text-anchor="start" fill="#1e1e1e" transform="translate(432.5 257.8) scale(1 1.18)">&lt;200mg/m<tspan font-size="4.6" dy="-3">2</tspan></text>
<text font-size="7.7" text-anchor="start" fill="#1e1e1e" transform="translate(476.4 257.8) scale(1 1.18)">(<tspan font-style="italic">n</tspan>=24)</text>
<path d="M394.8,211.5 V219.3 H405.5" fill="none" stroke="#111" stroke-width="1.1"/>
<path d="M404.5,217.7 L408,219.3 L404.5,220.9 Z" fill="#111"/>
<text font-size="7.9" text-anchor="start" fill="#1e1e1e" transform="translate(411 220.3) scale(1 1.18)">HR:1.91 (1.12−3.27)</text>
<text font-size="7.9" text-anchor="start" fill="#1e1e1e" transform="translate(411 229.3) scale(1 1.18)"><tspan font-style="italic">P</tspan>=0.018</text>
<path d="M394.8,263 V271 H405.5" fill="none" stroke="#111" stroke-width="1.1"/>
<path d="M404.5,269.4 L408,271 L404.5,272.6 Z" fill="#111"/>
<text font-size="7.9" text-anchor="start" fill="#1e1e1e" transform="translate(411 272.6) scale(1 1.18)">HR:1.57 (0.84−2.94)</text>
<text font-size="7.9" text-anchor="start" fill="#1e1e1e" transform="translate(411 282.8) scale(1 1.18)"><tspan font-style="italic">P</tspan>=0.16</text>
<circle cx="51" cy="349" r="1.6" fill="#444" opacity="0.5"/>
<circle cx="77.3" cy="346.8" r="1.6" fill="#444" opacity="0.5"/>
<circle cx="60.7" cy="351" r="1.6" fill="#444" opacity="0.5"/>
<circle cx="48.2" cy="358.3" r="1.6" fill="#444" opacity="0.5"/>
<circle cx="61" cy="360" r="1.6" fill="#444" opacity="0.5"/>
<circle cx="62.5" cy="361.5" r="1.6" fill="#444" opacity="0.5"/>
<circle cx="63.5" cy="365.5" r="1.6" fill="#444" opacity="0.5"/>
<circle cx="59.5" cy="367.2" r="1.6" fill="#444" opacity="0.5"/>
<circle cx="54" cy="372.8" r="1.6" fill="#444" opacity="0.5"/>
<circle cx="45.5" cy="379" r="1.6" fill="#444" opacity="0.5"/>
<circle cx="48" cy="380.5" r="1.6" fill="#444" opacity="0.5"/>
<circle cx="55.5" cy="379" r="1.6" fill="#444" opacity="0.5"/>
<circle cx="61.2" cy="381.2" r="1.6" fill="#444" opacity="0.5"/>
<circle cx="74" cy="379.3" r="1.6" fill="#444" opacity="0.5"/>
<circle cx="80" cy="378.2" r="1.6" fill="#444" opacity="0.5"/>
<circle cx="71" cy="383.2" r="1.6" fill="#444" opacity="0.5"/>
<circle cx="66" cy="382.5" r="1.6" fill="#444" opacity="0.5"/>
<circle cx="65.5" cy="385" r="1.6" fill="#444" opacity="0.5"/>
<circle cx="77" cy="384" r="1.6" fill="#444" opacity="0.5"/>
<circle cx="79" cy="383.5" r="1.6" fill="#444" opacity="0.5"/>
<circle cx="54" cy="382" r="1.6" fill="#444" opacity="0.5"/>
<circle cx="54" cy="384.5" r="1.6" fill="#444" opacity="0.5"/>
<circle cx="56" cy="388" r="1.6" fill="#222" opacity="0.72"/>
<circle cx="62.5" cy="387" r="1.6" fill="#444" opacity="0.5"/>
<circle cx="64.5" cy="388" r="1.6" fill="#444" opacity="0.5"/>
<circle cx="69.5" cy="388.5" r="1.6" fill="#222" opacity="0.72"/>
<circle cx="46" cy="391" r="1.6" fill="#444" opacity="0.5"/>
<circle cx="49.5" cy="390.5" r="1.6" fill="#444" opacity="0.5"/>
<circle cx="52.5" cy="390.5" r="1.6" fill="#444" opacity="0.5"/>
<circle cx="75" cy="391" r="1.6" fill="#222" opacity="0.72"/>
<circle cx="103" cy="349.3" r="1.6" fill="#444" opacity="0.5"/>
<circle cx="84.2" cy="372.5" r="1.6" fill="#444" opacity="0.5"/>
<circle cx="120" cy="370" r="1.6" fill="#444" opacity="0.5"/>
<circle cx="113" cy="377.8" r="1.6" fill="#444" opacity="0.5"/>
<circle cx="90" cy="379.7" r="1.6" fill="#444" opacity="0.5"/>
<circle cx="118.3" cy="383.2" r="1.6" fill="#444" opacity="0.5"/>
<circle cx="96" cy="386.2" r="1.6" fill="#444" opacity="0.5"/>
<circle cx="103.8" cy="387.5" r="1.6" fill="#444" opacity="0.5"/>
<circle cx="87" cy="389" r="1.6" fill="#444" opacity="0.5"/>
<circle cx="93" cy="391.5" r="1.6" fill="#444" opacity="0.5"/>
<circle cx="104" cy="391.5" r="1.6" fill="#222" opacity="0.72"/>
<circle cx="56" cy="392.5" r="1.6" fill="#444" opacity="0.5"/>
<circle cx="62" cy="391.5" r="1.6" fill="#444" opacity="0.5"/>
<circle cx="65" cy="388.5" r="1.6" fill="#444" opacity="0.5"/>
<circle cx="79" cy="393.5" r="1.6" fill="#444" opacity="0.5"/>
<circle cx="48" cy="396" r="1.6" fill="#444" opacity="0.5"/>
<circle cx="51" cy="395" r="1.6" fill="#444" opacity="0.5"/>
<circle cx="54" cy="396" r="1.6" fill="#444" opacity="0.5"/>
<circle cx="60" cy="397.5" r="1.6" fill="#222" opacity="0.72"/>
<circle cx="63" cy="395.5" r="1.6" fill="#444" opacity="0.5"/>
<circle cx="68" cy="394.5" r="1.6" fill="#444" opacity="0.5"/>
<circle cx="64" cy="398" r="1.6" fill="#444" opacity="0.5"/>
<circle cx="68" cy="397.5" r="1.6" fill="#444" opacity="0.5"/>
<circle cx="70" cy="398" r="1.6" fill="#444" opacity="0.5"/>
<circle cx="66" cy="400.5" r="1.6" fill="#444" opacity="0.5"/>
<circle cx="48" cy="400.5" r="1.6" fill="#222" opacity="0.72"/>
<circle cx="54" cy="401" r="1.6" fill="#222" opacity="0.72"/>
<circle cx="55.5" cy="402" r="1.6" fill="#444" opacity="0.5"/>
<circle cx="60" cy="404" r="1.6" fill="#444" opacity="0.5"/>
<circle cx="71" cy="403.5" r="1.6" fill="#444" opacity="0.5"/>
<circle cx="74" cy="401.5" r="1.6" fill="#444" opacity="0.5"/>
<circle cx="77" cy="402.5" r="1.6" fill="#444" opacity="0.5"/>
<circle cx="80" cy="403" r="1.6" fill="#444" opacity="0.5"/>
<circle cx="82" cy="402" r="1.6" fill="#444" opacity="0.5"/>
<circle cx="47.5" cy="406.5" r="1.6" fill="#222" opacity="0.72"/>
<circle cx="50" cy="405.5" r="1.6" fill="#444" opacity="0.5"/>
<circle cx="54.5" cy="407" r="1.6" fill="#444" opacity="0.5"/>
<circle cx="59" cy="406.5" r="1.6" fill="#444" opacity="0.5"/>
<circle cx="63" cy="407" r="1.6" fill="#444" opacity="0.5"/>
<circle cx="65" cy="406" r="1.6" fill="#444" opacity="0.5"/>
<circle cx="75" cy="406" r="1.6" fill="#444" opacity="0.5"/>
<circle cx="78" cy="407.5" r="1.6" fill="#444" opacity="0.5"/>
<circle cx="47" cy="410.5" r="1.6" fill="#444" opacity="0.5"/>
<circle cx="51.5" cy="410.5" r="1.6" fill="#222" opacity="0.72"/>
<circle cx="56" cy="409.5" r="1.6" fill="#444" opacity="0.5"/>
<circle cx="60" cy="408.5" r="1.6" fill="#444" opacity="0.5"/>
<circle cx="65" cy="409.5" r="1.6" fill="#444" opacity="0.5"/>
<circle cx="68" cy="410.5" r="1.6" fill="#444" opacity="0.5"/>
<circle cx="44" cy="414" r="1.6" fill="#444" opacity="0.5"/>
<circle cx="48.5" cy="412.5" r="1.6" fill="#444" opacity="0.5"/>
<circle cx="51.5" cy="415" r="1.6" fill="#444" opacity="0.5"/>
<circle cx="54" cy="412" r="1.6" fill="#444" opacity="0.5"/>
<circle cx="63.5" cy="412.5" r="1.6" fill="#222" opacity="0.72"/>
<circle cx="65.5" cy="415" r="1.6" fill="#222" opacity="0.72"/>
<circle cx="80" cy="416" r="1.6" fill="#222" opacity="0.72"/>
<circle cx="42" cy="417.5" r="1.6" fill="#444" opacity="0.5"/>
<circle cx="46" cy="417" r="1.6" fill="#444" opacity="0.5"/>
<circle cx="48" cy="418" r="1.6" fill="#444" opacity="0.5"/>
<circle cx="51" cy="417" r="1.6" fill="#444" opacity="0.5"/>
<circle cx="59" cy="416.5" r="1.6" fill="#444" opacity="0.5"/>
<circle cx="60" cy="418" r="1.6" fill="#444" opacity="0.5"/>
<circle cx="64.5" cy="418" r="1.6" fill="#444" opacity="0.5"/>
<circle cx="67" cy="419.5" r="1.6" fill="#444" opacity="0.5"/>
<circle cx="43" cy="421" r="1.6" fill="#444" opacity="0.5"/>
<circle cx="45" cy="422" r="1.6" fill="#444" opacity="0.5"/>
<circle cx="53" cy="420" r="1.6" fill="#444" opacity="0.5"/>
<circle cx="52.5" cy="422.5" r="1.6" fill="#444" opacity="0.5"/>
<circle cx="59" cy="420" r="1.6" fill="#444" opacity="0.5"/>
<circle cx="60.5" cy="420.5" r="1.6" fill="#444" opacity="0.5"/>
<circle cx="45" cy="428" r="1.6" fill="#444" opacity="0.5"/>
<circle cx="37.5" cy="431.2" r="1.6" fill="#444" opacity="0.5"/>
<circle cx="86" cy="390" r="1.6" fill="#444" opacity="0.5"/>
<circle cx="85" cy="392.5" r="1.6" fill="#444" opacity="0.5"/>
<circle cx="89.5" cy="393.5" r="1.6" fill="#444" opacity="0.5"/>
<circle cx="88.5" cy="395.5" r="1.6" fill="#444" opacity="0.5"/>
<circle cx="106" cy="393" r="1.6" fill="#444" opacity="0.5"/>
<circle cx="92" cy="398.5" r="1.6" fill="#444" opacity="0.5"/>
<circle cx="98" cy="397.5" r="1.6" fill="#444" opacity="0.5"/>
<circle cx="127.5" cy="396.5" r="1.6" fill="#444" opacity="0.5"/>
<circle cx="83" cy="399.5" r="1.6" fill="#444" opacity="0.5"/>
<circle cx="85" cy="399" r="1.6" fill="#444" opacity="0.5"/>
<circle cx="84" cy="404.5" r="1.6" fill="#444" opacity="0.5"/>
<circle cx="89.5" cy="405" r="1.6" fill="#444" opacity="0.5"/>
<circle cx="86.5" cy="406.5" r="1.6" fill="#444" opacity="0.5"/>
<circle cx="100.5" cy="405.5" r="1.6" fill="#444" opacity="0.5"/>
<circle cx="100" cy="407" r="1.6" fill="#444" opacity="0.5"/>
<circle cx="113.5" cy="404.5" r="1.6" fill="#444" opacity="0.5"/>
<circle cx="87.5" cy="411.5" r="1.6" fill="#444" opacity="0.5"/>
<circle cx="104" cy="411.5" r="1.6" fill="#444" opacity="0.5"/>
<circle cx="84" cy="415" r="1.6" fill="#444" opacity="0.5"/>
<circle cx="84.8" cy="421.5" r="1.6" fill="#444" opacity="0.5"/>
<rect x="32.3" y="342.2" width="99.2" height="94.8" fill="none" stroke="#a3a3a3" stroke-width="1.1"/>
<line x1="55.4" y1="343.2" x2="55.4" y2="437" stroke="#f04a4a" stroke-width="1.1" stroke-dasharray="1.4,1.9"/>
<line x1="32.3" y1="406.9" x2="131.5" y2="406.9" stroke="#f04a4a" stroke-width="1.1" stroke-dasharray="1.4,1.9"/>
<line x1="27.8" y1="433.4" x2="32.3" y2="433.4" stroke="#a3a3a3" stroke-width="1"/>
<text font-size="7.8" text-anchor="end" fill="#1e1e1e" transform="translate(24.3 436.2) scale(1 1.18)">0</text>
<line x1="27.8" y1="408.27" x2="32.3" y2="408.27" stroke="#a3a3a3" stroke-width="1"/>
<text font-size="7.8" text-anchor="end" fill="#1e1e1e" transform="translate(24.3 411.07) scale(1 1.18)">10</text>
<line x1="27.8" y1="383.13" x2="32.3" y2="383.13" stroke="#a3a3a3" stroke-width="1"/>
<text font-size="7.8" text-anchor="end" fill="#1e1e1e" transform="translate(24.3 385.93) scale(1 1.18)">20</text>
<line x1="27.8" y1="358" x2="32.3" y2="358" stroke="#a3a3a3" stroke-width="1"/>
<text font-size="7.8" text-anchor="end" fill="#1e1e1e" transform="translate(24.3 360.8) scale(1 1.18)">30</text>
<line x1="35.8" y1="437" x2="35.8" y2="441" stroke="#a3a3a3" stroke-width="1"/>
<text font-size="7.8" text-anchor="middle" fill="#1e1e1e" transform="translate(35.3 453) scale(1 1.18)">0</text>
<line x1="54.1" y1="437" x2="54.1" y2="441" stroke="#a3a3a3" stroke-width="1"/>
<text font-size="7.8" text-anchor="middle" fill="#1e1e1e" transform="translate(53.6 453) scale(1 1.18)">20</text>
<line x1="72.4" y1="437" x2="72.4" y2="441" stroke="#a3a3a3" stroke-width="1"/>
<text font-size="7.8" text-anchor="middle" fill="#1e1e1e" transform="translate(71.9 453) scale(1 1.18)">40</text>
<line x1="90.7" y1="437" x2="90.7" y2="441" stroke="#a3a3a3" stroke-width="1"/>
<text font-size="7.8" text-anchor="middle" fill="#1e1e1e" transform="translate(90.2 453) scale(1 1.18)">60</text>
<line x1="109" y1="437" x2="109" y2="441" stroke="#a3a3a3" stroke-width="1"/>
<text font-size="7.8" text-anchor="middle" fill="#1e1e1e" transform="translate(108.5 453) scale(1 1.18)">80</text>
<line x1="127.3" y1="437" x2="127.3" y2="441" stroke="#a3a3a3" stroke-width="1"/>
<text font-size="7.8" text-anchor="middle" fill="#1e1e1e" transform="translate(126.8 453) scale(1 1.18)">100</text>
<text font-size="8" text-anchor="middle" fill="#1e1e1e" transform="translate(40.4 428.8) scale(1 1.18)">32</text>
<text font-size="8" text-anchor="middle" fill="#1e1e1e" transform="translate(40.4 361.3) scale(1 1.18)">26</text>
<text font-size="8" text-anchor="middle" fill="#1e1e1e" transform="translate(109.2 361.3) scale(1 1.18)">94</text>
<text font-size="8" text-anchor="middle" fill="#1e1e1e" transform="translate(109.2 428.8) scale(1 1.18)">29</text>
<text font-size="7.8" text-anchor="middle" fill="#1e1e1e" transform="translate(84 463.6) scale(1 1.18)"><tspan font-style="italic">LRRC8A</tspan> (RPKM)</text>
<text font-size="7.8" text-anchor="middle" fill="#1e1e1e" transform="translate(9.2 386) rotate(-90) scale(1 1.1)"><tspan font-style="italic">LRRC8D</tspan> (RPKM)</text>
<line x1="166.9" y1="333.5" x2="255.5" y2="333.5" stroke="#b2b2b2" stroke-width="1.3"/>
<line x1="166.9" y1="445.8" x2="255.5" y2="445.8" stroke="#b2b2b2" stroke-width="1.3"/>
<line x1="167.4" y1="332.9" x2="167.4" y2="446.4" stroke="#8e8e8e" stroke-width="1.0"/>
<line x1="255" y1="332.9" x2="255" y2="446.4" stroke="#8e8e8e" stroke-width="1.0"/>
<line x1="164.6" y1="441.6" x2="167.4" y2="441.6" stroke="#b2b2b2" stroke-width="1.1"/>
<text font-size="7.8" text-anchor="end" fill="#1e1e1e" transform="translate(162.4 444.4) scale(1 1.18)">0.0</text>
<line x1="164.6" y1="420.84" x2="167.4" y2="420.84" stroke="#b2b2b2" stroke-width="1.1"/>
<text font-size="7.8" text-anchor="end" fill="#1e1e1e" transform="translate(162.4 423.64) scale(1 1.18)">0.2</text>
<line x1="164.6" y1="400.08" x2="167.4" y2="400.08" stroke="#b2b2b2" stroke-width="1.1"/>
<text font-size="7.8" text-anchor="end" fill="#1e1e1e" transform="translate(162.4 402.88) scale(1 1.18)">0.4</text>
<line x1="164.6" y1="379.32" x2="167.4" y2="379.32" stroke="#b2b2b2" stroke-width="1.1"/>
<text font-size="7.8" text-anchor="end" fill="#1e1e1e" transform="translate(162.4 382.12) scale(1 1.18)">0.6</text>
<line x1="164.6" y1="358.56" x2="167.4" y2="358.56" stroke="#b2b2b2" stroke-width="1.1"/>
<text font-size="7.8" text-anchor="end" fill="#1e1e1e" transform="translate(162.4 361.36) scale(1 1.18)">0.8</text>
<line x1="164.6" y1="337.8" x2="167.4" y2="337.8" stroke="#b2b2b2" stroke-width="1.1"/>
<text font-size="7.8" text-anchor="end" fill="#1e1e1e" transform="translate(162.4 340.6) scale(1 1.18)">1.0</text>
<line x1="167.4" y1="445.8" x2="167.4" y2="448.4" stroke="#8e8e8e" stroke-width="0.9"/>
<text font-size="7.8" text-anchor="middle" fill="#1e1e1e" transform="translate(167.4 456.9) scale(1 1.18)">0</text>
<line x1="184.92" y1="445.8" x2="184.92" y2="448.4" stroke="#8e8e8e" stroke-width="0.9"/>
<text font-size="7.8" text-anchor="middle" fill="#1e1e1e" transform="translate(184.92 456.9) scale(1 1.18)">1</text>
<line x1="202.44" y1="445.8" x2="202.44" y2="448.4" stroke="#8e8e8e" stroke-width="0.9"/>
<text font-size="7.8" text-anchor="middle" fill="#1e1e1e" transform="translate(202.44 456.9) scale(1 1.18)">2</text>
<line x1="219.96" y1="445.8" x2="219.96" y2="448.4" stroke="#8e8e8e" stroke-width="0.9"/>
<text font-size="7.8" text-anchor="middle" fill="#1e1e1e" transform="translate(219.96 456.9) scale(1 1.18)">3</text>
<line x1="237.48" y1="445.8" x2="237.48" y2="448.4" stroke="#8e8e8e" stroke-width="0.9"/>
<text font-size="7.8" text-anchor="middle" fill="#1e1e1e" transform="translate(237.48 456.9) scale(1 1.18)">4</text>
<line x1="255" y1="445.8" x2="255" y2="448.4" stroke="#8e8e8e" stroke-width="0.9"/>
<text font-size="7.8" text-anchor="middle" fill="#1e1e1e" transform="translate(255 456.9) scale(1 1.18)">5</text>
<text font-size="7.8" text-anchor="middle" fill="#1e1e1e" transform="translate(211.8 467.9) scale(1 1.18)">Years</text>
<text font-size="7.8" text-anchor="middle" fill="#1e1e1e" transform="translate(147.1 387) rotate(-90) scale(1 1.1)">Overall survival</text>
<line x1="290" y1="333.5" x2="378.6" y2="333.5" stroke="#b2b2b2" stroke-width="1.3"/>
<line x1="290" y1="445.8" x2="378.6" y2="445.8" stroke="#b2b2b2" stroke-width="1.3"/>
<line x1="290.5" y1="332.9" x2="290.5" y2="446.4" stroke="#8e8e8e" stroke-width="1.0"/>
<line x1="378.1" y1="332.9" x2="378.1" y2="446.4" stroke="#8e8e8e" stroke-width="1.0"/>
<line x1="287.7" y1="441.6" x2="290.5" y2="441.6" stroke="#b2b2b2" stroke-width="1.1"/>
<text font-size="7.8" text-anchor="end" fill="#1e1e1e" transform="translate(285.5 444.4) scale(1 1.18)">0.0</text>
<line x1="287.7" y1="420.84" x2="290.5" y2="420.84" stroke="#b2b2b2" stroke-width="1.1"/>
<text font-size="7.8" text-anchor="end" fill="#1e1e1e" transform="translate(285.5 423.64) scale(1 1.18)">0.2</text>
<line x1="287.7" y1="400.08" x2="290.5" y2="400.08" stroke="#b2b2b2" stroke-width="1.1"/>
<text font-size="7.8" text-anchor="end" fill="#1e1e1e" transform="translate(285.5 402.88) scale(1 1.18)">0.4</text>
<line x1="287.7" y1="379.32" x2="290.5" y2="379.32" stroke="#b2b2b2" stroke-width="1.1"/>
<text font-size="7.8" text-anchor="end" fill="#1e1e1e" transform="translate(285.5 382.12) scale(1 1.18)">0.6</text>
<line x1="287.7" y1="358.56" x2="290.5" y2="358.56" stroke="#b2b2b2" stroke-width="1.1"/>
<text font-size="7.8" text-anchor="end" fill="#1e1e1e" transform="translate(285.5 361.36) scale(1 1.18)">0.8</text>
<line x1="287.7" y1="337.8" x2="290.5" y2="337.8" stroke="#b2b2b2" stroke-width="1.1"/>
<text font-size="7.8" text-anchor="end" fill="#1e1e1e" transform="translate(285.5 340.6) scale(1 1.18)">1.0</text>
<line x1="290.5" y1="445.8" x2="290.5" y2="448.4" stroke="#8e8e8e" stroke-width="0.9"/>
<text font-size="7.8" text-anchor="middle" fill="#1e1e1e" transform="translate(290.5 456.9) scale(1 1.18)">0</text>
<line x1="308.02" y1="445.8" x2="308.02" y2="448.4" stroke="#8e8e8e" stroke-width="0.9"/>
<text font-size="7.8" text-anchor="middle" fill="#1e1e1e" transform="translate(308.02 456.9) scale(1 1.18)">1</text>
<line x1="325.54" y1="445.8" x2="325.54" y2="448.4" stroke="#8e8e8e" stroke-width="0.9"/>
<text font-size="7.8" text-anchor="middle" fill="#1e1e1e" transform="translate(325.54 456.9) scale(1 1.18)">2</text>
<line x1="343.06" y1="445.8" x2="343.06" y2="448.4" stroke="#8e8e8e" stroke-width="0.9"/>
<text font-size="7.8" text-anchor="middle" fill="#1e1e1e" transform="translate(343.06 456.9) scale(1 1.18)">3</text>
<line x1="360.58" y1="445.8" x2="360.58" y2="448.4" stroke="#8e8e8e" stroke-width="0.9"/>
<text font-size="7.8" text-anchor="middle" fill="#1e1e1e" transform="translate(360.58 456.9) scale(1 1.18)">4</text>
<line x1="378.1" y1="445.8" x2="378.1" y2="448.4" stroke="#8e8e8e" stroke-width="0.9"/>
<text font-size="7.8" text-anchor="middle" fill="#1e1e1e" transform="translate(378.1 456.9) scale(1 1.18)">5</text>
<text font-size="7.8" text-anchor="middle" fill="#1e1e1e" transform="translate(334.9 467.9) scale(1 1.18)">Years</text>
<text font-size="7.8" text-anchor="middle" fill="#1e1e1e" transform="translate(270.2 387) rotate(-90) scale(1 1.1)">Progression</text>
<line x1="413.2" y1="333.5" x2="501.8" y2="333.5" stroke="#b2b2b2" stroke-width="1.3"/>
<line x1="413.2" y1="445.8" x2="501.8" y2="445.8" stroke="#b2b2b2" stroke-width="1.3"/>
<line x1="413.7" y1="332.9" x2="413.7" y2="446.4" stroke="#8e8e8e" stroke-width="1.0"/>
<line x1="501.3" y1="332.9" x2="501.3" y2="446.4" stroke="#8e8e8e" stroke-width="1.0"/>
<line x1="410.9" y1="441.6" x2="413.7" y2="441.6" stroke="#b2b2b2" stroke-width="1.1"/>
<text font-size="7.8" text-anchor="end" fill="#1e1e1e" transform="translate(408.7 444.4) scale(1 1.18)">0.0</text>
<line x1="410.9" y1="420.84" x2="413.7" y2="420.84" stroke="#b2b2b2" stroke-width="1.1"/>
<text font-size="7.8" text-anchor="end" fill="#1e1e1e" transform="translate(408.7 423.64) scale(1 1.18)">0.2</text>
<line x1="410.9" y1="400.08" x2="413.7" y2="400.08" stroke="#b2b2b2" stroke-width="1.1"/>
<text font-size="7.8" text-anchor="end" fill="#1e1e1e" transform="translate(408.7 402.88) scale(1 1.18)">0.4</text>
<line x1="410.9" y1="379.32" x2="413.7" y2="379.32" stroke="#b2b2b2" stroke-width="1.1"/>
<text font-size="7.8" text-anchor="end" fill="#1e1e1e" transform="translate(408.7 382.12) scale(1 1.18)">0.6</text>
<line x1="410.9" y1="358.56" x2="413.7" y2="358.56" stroke="#b2b2b2" stroke-width="1.1"/>
<text font-size="7.8" text-anchor="end" fill="#1e1e1e" transform="translate(408.7 361.36) scale(1 1.18)">0.8</text>
<line x1="410.9" y1="337.8" x2="413.7" y2="337.8" stroke="#b2b2b2" stroke-width="1.1"/>
<text font-size="7.8" text-anchor="end" fill="#1e1e1e" transform="translate(408.7 340.6) scale(1 1.18)">1.0</text>
<line x1="413.7" y1="445.8" x2="413.7" y2="448.4" stroke="#8e8e8e" stroke-width="0.9"/>
<text font-size="7.8" text-anchor="middle" fill="#1e1e1e" transform="translate(413.7 456.9) scale(1 1.18)">0</text>
<line x1="431.22" y1="445.8" x2="431.22" y2="448.4" stroke="#8e8e8e" stroke-width="0.9"/>
<text font-size="7.8" text-anchor="middle" fill="#1e1e1e" transform="translate(431.22 456.9) scale(1 1.18)">1</text>
<line x1="448.74" y1="445.8" x2="448.74" y2="448.4" stroke="#8e8e8e" stroke-width="0.9"/>
<text font-size="7.8" text-anchor="middle" fill="#1e1e1e" transform="translate(448.74 456.9) scale(1 1.18)">2</text>
<line x1="466.26" y1="445.8" x2="466.26" y2="448.4" stroke="#8e8e8e" stroke-width="0.9"/>
<text font-size="7.8" text-anchor="middle" fill="#1e1e1e" transform="translate(466.26 456.9) scale(1 1.18)">3</text>
<line x1="483.78" y1="445.8" x2="483.78" y2="448.4" stroke="#8e8e8e" stroke-width="0.9"/>
<text font-size="7.8" text-anchor="middle" fill="#1e1e1e" transform="translate(483.78 456.9) scale(1 1.18)">4</text>
<line x1="501.3" y1="445.8" x2="501.3" y2="448.4" stroke="#8e8e8e" stroke-width="0.9"/>
<text font-size="7.8" text-anchor="middle" fill="#1e1e1e" transform="translate(501.3 456.9) scale(1 1.18)">5</text>
<text font-size="7.8" text-anchor="middle" fill="#1e1e1e" transform="translate(458.1 467.9) scale(1 1.18)">Years</text>
<text font-size="7.8" text-anchor="middle" fill="#1e1e1e" transform="translate(393.4 387) rotate(-90) scale(1 1.1)">Locoregional control</text>
<path d="M167.4,337.8H169.59V341.55H171.78V344.43H173.97V346.62H176.16V349.59H178.35V353.02H180.54V355.5H182.73V357.97H184.92V360.28H187.11V362.53H189.3V364.78H191.49V366.97H193.68V369.11H195.87V371.25H198.06V374.04H200.25V377.54H202.44V381.04H204.63V383.29H206.82V384.7H209.01V386.19H211.2V389.22H213.39V389.93H215.58V390.21H217.77V390.48H219.96V390.81H222.15V391.68H224.34V392.55H226.53V393.43H228.72V394.3H230.91V395.37H233.1V396.45H235.29V397.53H237.48V398.13H239.67V398.35H241.86V398.58H244.05V398.8H246.24V399.05H248.43V399.33H250.62V399.62H252.81V399.9H255V400.18" fill="none" stroke="#b22222" stroke-width="0.95" opacity="1"/>
<line x1="200.69" y1="376.64" x2="200.69" y2="379.84" stroke="#b22222" stroke-width="0.9"/>
<line x1="212.95" y1="388.28" x2="212.95" y2="391.48" stroke="#b22222" stroke-width="0.9"/>
<line x1="218.21" y1="388.94" x2="218.21" y2="392.14" stroke="#b22222" stroke-width="0.9"/>
<line x1="221.71" y1="389.91" x2="221.71" y2="393.11" stroke="#b22222" stroke-width="0.9"/>
<line x1="230.47" y1="393.55" x2="230.47" y2="396.75" stroke="#b22222" stroke-width="0.9"/>
<line x1="235.73" y1="396.14" x2="235.73" y2="399.34" stroke="#b22222" stroke-width="0.9"/>
<line x1="239.23" y1="396.71" x2="239.23" y2="399.91" stroke="#b22222" stroke-width="0.9"/>
<line x1="242.74" y1="397.07" x2="242.74" y2="400.27" stroke="#b22222" stroke-width="0.9"/>
<line x1="246.24" y1="397.45" x2="246.24" y2="400.65" stroke="#b22222" stroke-width="0.9"/>
<line x1="247.99" y1="397.68" x2="247.99" y2="400.88" stroke="#b22222" stroke-width="0.9"/>
<line x1="251.5" y1="398.13" x2="251.5" y2="401.33" stroke="#b22222" stroke-width="0.9"/>
<path d="M167.4,337.8H169.59H171.78H173.97H176.16V339.15H178.35V342.52H180.54V349.98H182.73V355.15H184.92V358.12H187.11V360.84H189.3V361.67H191.49V362.51H193.68V363.34H195.87V364.76H198.06V366.37H200.25V367.98H202.44V369.44H204.63V370.7H206.82V371.95H209.01V373.21H211.2V374.46H213.39V375.49H215.58V376.21H217.77V376.93H219.96V377.65H222.15V378.37H224.34V379.15H226.53V380.02H228.72V380.9H230.91V381.77H233.1V382.79H235.29V384.25H237.48V385.72H239.67V386.07H241.86H244.05H246.24H248.43H250.62H252.81V386.21H255V388.87" fill="none" stroke="#333" stroke-width="0.95" opacity="1"/>
<line x1="195.43" y1="362.84" x2="195.43" y2="366.04" stroke="#333" stroke-width="0.9"/>
<line x1="209.45" y1="371.86" x2="209.45" y2="375.06" stroke="#333" stroke-width="0.9"/>
<line x1="219.96" y1="376.05" x2="219.96" y2="379.25" stroke="#333" stroke-width="0.9"/>
<line x1="232.22" y1="380.69" x2="232.22" y2="383.89" stroke="#333" stroke-width="0.9"/>
<line x1="239.23" y1="384.47" x2="239.23" y2="387.67" stroke="#333" stroke-width="0.9"/>
<line x1="242.74" y1="384.47" x2="242.74" y2="387.67" stroke="#333" stroke-width="0.9"/>
<line x1="246.24" y1="384.47" x2="246.24" y2="387.67" stroke="#333" stroke-width="0.9"/>
<line x1="247.99" y1="384.47" x2="247.99" y2="387.67" stroke="#333" stroke-width="0.9"/>
<path d="M167.4,337.8H169.59V338.11H171.78V338.43H173.97V339.79H176.16V343H178.35V347.45H180.54V351.55H182.73V354.27H184.92V355.45H187.11V356.03H189.3V356.54H191.49V357.06H193.68V357.57H195.87V358.09H198.06V358.74H200.25V361.03H202.44V362.69H204.63V363.43H206.82V364.16H209.01V364.89H211.2V365.62H213.39V366.51H215.58V367.59H217.77V368.67H219.96V369.8H222.15V371.43H224.34V373.07H226.53V374.71H228.72V376.49H230.91V378.34H233.1V379.92H235.29V380.67H237.48V381.42H239.67V382.21H241.86V383.02H244.05V383.82H246.24V384.87H248.43V386.29H250.62V387.71H252.81V389.59H255V391.57" fill="none" stroke="#2e8b3e" stroke-width="0.95" opacity="1"/>
<line x1="183.17" y1="353.21" x2="183.17" y2="356.41" stroke="#2e8b3e" stroke-width="0.9"/>
<line x1="191.93" y1="355.56" x2="191.93" y2="358.76" stroke="#2e8b3e" stroke-width="0.9"/>
<line x1="202.44" y1="361.09" x2="202.44" y2="364.29" stroke="#2e8b3e" stroke-width="0.9"/>
<line x1="211.2" y1="364.02" x2="211.2" y2="367.22" stroke="#2e8b3e" stroke-width="0.9"/>
<line x1="218.21" y1="367.29" x2="218.21" y2="370.49" stroke="#2e8b3e" stroke-width="0.9"/>
<line x1="228.72" y1="374.89" x2="228.72" y2="378.09" stroke="#2e8b3e" stroke-width="0.9"/>
<line x1="235.73" y1="379.22" x2="235.73" y2="382.42" stroke="#2e8b3e" stroke-width="0.9"/>
<line x1="239.23" y1="380.45" x2="239.23" y2="383.65" stroke="#2e8b3e" stroke-width="0.9"/>
<line x1="242.74" y1="381.74" x2="242.74" y2="384.94" stroke="#2e8b3e" stroke-width="0.9"/>
<line x1="247.99" y1="384.41" x2="247.99" y2="387.61" stroke="#2e8b3e" stroke-width="0.9"/>
<line x1="253.25" y1="388.39" x2="253.25" y2="391.59" stroke="#2e8b3e" stroke-width="0.9"/>
<text font-size="7" text-anchor="end" fill="#1e1e1e" transform="translate(254.1 341.9) scale(1 1.18)">HR:1.49 (1−2.22)</text>
<text font-size="7" text-anchor="end" fill="#1e1e1e" transform="translate(254.1 350.1) scale(1 1.18)"><tspan font-style="italic">P</tspan>=0.051</text>
<text font-size="6.8" text-anchor="start" fill="#1e1e1e" transform="translate(172.7 419.8) scale(1 1.18)"><tspan font-style="italic">LRRC8D</tspan> gene expression</text>
<line x1="172.7" y1="424.7" x2="183.4" y2="424.7" stroke="#b22222" stroke-width="1.1"/>
<text font-size="6.8" text-anchor="start" fill="#1e1e1e" transform="translate(188 427.1) scale(1 1.18)">Low (<tspan font-style="italic">n</tspan>=61)</text>
<line x1="172.7" y1="431.3" x2="183.4" y2="431.3" stroke="#333" stroke-width="1.1"/>
<text font-size="6.8" text-anchor="start" fill="#1e1e1e" transform="translate(188 433.7) scale(1 1.18)">Medium (<tspan font-style="italic">n</tspan>=60)</text>
<line x1="172.7" y1="437.9" x2="183.4" y2="437.9" stroke="#2e8b3e" stroke-width="1.1"/>
<text font-size="6.8" text-anchor="start" fill="#1e1e1e" transform="translate(188 440.3) scale(1 1.18)">High (<tspan font-style="italic">n</tspan>=60)</text>
<path d="M290.5,337.8H292.69V341.77H294.88V345.97H297.07V350.29H299.26V360.74H301.45V367.81H303.64V371.44H305.83V373.19H308.02V376.41H310.21V381.85H312.4V383.69H314.59V384.14H316.78V385.29H318.97V386.84H321.16V388.39H323.35V389.93H325.54V391.12H327.73V391.93H329.92V392.73H332.11V393.57H334.3V394.66H336.49V395.74H338.68V396.44H340.87V396.92H343.06V397.4H345.25V397.88H347.44V398.36H349.63V398.84H351.82V399.11H354.01V399.32H356.2V399.53H358.39V399.74H360.58V399.95H362.77V400.16H364.96V400.37H367.15V400.58H369.34V402.1H371.53V403.51H373.72H375.91H378.1" fill="none" stroke="#b22222" stroke-width="0.95" opacity="1"/>
<line x1="325.54" y1="389.52" x2="325.54" y2="392.72" stroke="#b22222" stroke-width="0.9"/>
<line x1="334.3" y1="393.06" x2="334.3" y2="396.26" stroke="#b22222" stroke-width="0.9"/>
<line x1="337.8" y1="394.65" x2="337.8" y2="397.85" stroke="#b22222" stroke-width="0.9"/>
<line x1="348.32" y1="396.95" x2="348.32" y2="400.15" stroke="#b22222" stroke-width="0.9"/>
<line x1="351.82" y1="397.51" x2="351.82" y2="400.71" stroke="#b22222" stroke-width="0.9"/>
<line x1="357.08" y1="398.01" x2="357.08" y2="401.21" stroke="#b22222" stroke-width="0.9"/>
<line x1="360.58" y1="398.35" x2="360.58" y2="401.55" stroke="#b22222" stroke-width="0.9"/>
<line x1="364.08" y1="398.68" x2="364.08" y2="401.88" stroke="#b22222" stroke-width="0.9"/>
<line x1="371.09" y1="401.91" x2="371.09" y2="405.11" stroke="#b22222" stroke-width="0.9"/>
<line x1="372.84" y1="401.91" x2="372.84" y2="405.11" stroke="#b22222" stroke-width="0.9"/>
<path d="M290.5,337.8H292.69H294.88H297.07V339.67H299.26V345.54H301.45V355.24H303.64V362.18H305.83V365.39H308.02V367.21H310.21V368.67H312.4V370.15H314.59V371.68H316.78V373.2H318.97V374.72H321.16V376.44H323.35V379.22H325.54V380.92H327.73V381.45H329.92V381.97H332.11V382.63H334.3V384.27H336.49V385.91H338.68V387.54H340.87V388.02H343.06V388.12H345.25V388.23H347.44V388.34H349.63V388.44H351.82V388.55H354.01V388.98H356.2V389.44H358.39V390.68H360.58V392.9H362.77V393.44H364.96H367.15H369.34H371.53H373.72H375.91H378.1V397.07" fill="none" stroke="#333" stroke-width="0.95" opacity="1"/>
<line x1="362.33" y1="391.84" x2="362.33" y2="395.04" stroke="#333" stroke-width="0.9"/>
<line x1="369.34" y1="391.84" x2="369.34" y2="395.04" stroke="#333" stroke-width="0.9"/>
<line x1="372.84" y1="391.84" x2="372.84" y2="395.04" stroke="#333" stroke-width="0.9"/>
<path d="M290.5,337.8H292.69V338.18H294.88V338.57H297.07V342.73H299.26V348.49H301.45V357.25H303.64V361.52H305.83V362.25H308.02V364.48H310.21V367.07H312.4V368.91H314.59V369.15H316.78V369.38H318.97V369.62H321.16V369.85H323.35V370.08H325.54V370.32H327.73V370.55H329.92V371.05H332.11V371.6H334.3V372.16H336.49V373.28H338.68V375.12H340.87V376.96H343.06V378.28H345.25V379.58H347.44V380.88H349.63V382.17H351.82V382.73H354.01V383.1H356.2V383.47H358.39V383.84H360.58V384.21H362.77V384.7H364.96V385.23H367.15V385.75H369.34V387.44H371.53V390.88H373.72V392.1H375.91V392.77H378.1V393.44" fill="none" stroke="#2e8b3e" stroke-width="0.95" opacity="1"/>
<line x1="315.03" y1="367.59" x2="315.03" y2="370.79" stroke="#2e8b3e" stroke-width="0.9"/>
<line x1="334.3" y1="370.56" x2="334.3" y2="373.76" stroke="#2e8b3e" stroke-width="0.9"/>
<line x1="348.32" y1="379.8" x2="348.32" y2="383" stroke="#2e8b3e" stroke-width="0.9"/>
<line x1="353.57" y1="381.43" x2="353.57" y2="384.63" stroke="#2e8b3e" stroke-width="0.9"/>
<line x1="358.83" y1="382.32" x2="358.83" y2="385.52" stroke="#2e8b3e" stroke-width="0.9"/>
<line x1="362.33" y1="383" x2="362.33" y2="386.2" stroke="#2e8b3e" stroke-width="0.9"/>
<line x1="364.08" y1="383.42" x2="364.08" y2="386.62" stroke="#2e8b3e" stroke-width="0.9"/>
<line x1="367.59" y1="384.26" x2="367.59" y2="387.46" stroke="#2e8b3e" stroke-width="0.9"/>
<line x1="371.09" y1="388.59" x2="371.09" y2="391.79" stroke="#2e8b3e" stroke-width="0.9"/>
<line x1="376.35" y1="391.3" x2="376.35" y2="394.5" stroke="#2e8b3e" stroke-width="0.9"/>
<text font-size="7" text-anchor="end" fill="#1e1e1e" transform="translate(373.9 341.9) scale(1 1.18)">HR:1.46 (0.99−2.16)</text>
<text font-size="7" text-anchor="end" fill="#1e1e1e" transform="translate(373.9 350.1) scale(1 1.18)"><tspan font-style="italic">P</tspan>=0.054</text>
<path d="M413.7,337.8H416.62V339.21H419.54V342.88H422.46V346.93H425.38V352.04H428.3V354.97H431.22V357.19H434.14V359.05H437.06V360.89H439.98V362.71H442.9V364.52H445.82V365.3H448.74V365.59H451.66V365.89H454.58V366.39H457.5V367.11H460.42V367.8H463.34V367.87H466.26V367.93H469.18V368H472.1V368.07H475.02V368.13H477.94V368.2H480.86V368.27H483.78V368.33H486.7V368.4H489.62V368.47H492.54V368.53H495.46V368.6H498.38V368.67H501.3V368.73" fill="none" stroke="#b22222" stroke-width="0.95" opacity="1"/>
<line x1="420.71" y1="342.75" x2="420.71" y2="345.95" stroke="#b22222" stroke-width="0.9"/>
<line x1="424.21" y1="348.77" x2="424.21" y2="351.97" stroke="#b22222" stroke-width="0.9"/>
<line x1="431.22" y1="355.59" x2="431.22" y2="358.79" stroke="#b22222" stroke-width="0.9"/>
<line x1="439.98" y1="361.11" x2="439.98" y2="364.31" stroke="#b22222" stroke-width="0.9"/>
<line x1="457.5" y1="365.51" x2="457.5" y2="368.71" stroke="#b22222" stroke-width="0.9"/>
<line x1="462.76" y1="366.25" x2="462.76" y2="369.45" stroke="#b22222" stroke-width="0.9"/>
<line x1="473.27" y1="366.49" x2="473.27" y2="369.69" stroke="#b22222" stroke-width="0.9"/>
<line x1="476.77" y1="366.57" x2="476.77" y2="369.77" stroke="#b22222" stroke-width="0.9"/>
<line x1="480.28" y1="366.65" x2="480.28" y2="369.85" stroke="#b22222" stroke-width="0.9"/>
<line x1="483.78" y1="366.73" x2="483.78" y2="369.93" stroke="#b22222" stroke-width="0.9"/>
<line x1="489.04" y1="366.85" x2="489.04" y2="370.05" stroke="#b22222" stroke-width="0.9"/>
<line x1="494.29" y1="366.97" x2="494.29" y2="370.17" stroke="#b22222" stroke-width="0.9"/>
<path d="M413.7,337.8H416.62H419.54V338.59H422.46V344.24H425.38V350H428.3V352.47H431.22V354.66H434.14V356.88H437.06V359.16H439.98V361.44H442.9V364.1H445.82V366.97H448.74H451.66H454.58H457.5V367.39H460.42V368.78H463.34V369.15H466.26H469.18H472.1H475.02H477.94H480.86H483.78H486.7H489.62H492.54H495.46H498.38H501.3" fill="none" stroke="#333" stroke-width="0.95" opacity="1"/>
<line x1="418.96" y1="336.2" x2="418.96" y2="339.4" stroke="#333" stroke-width="0.9"/>
<line x1="422.46" y1="342.64" x2="422.46" y2="345.84" stroke="#333" stroke-width="0.9"/>
<line x1="425.96" y1="349.13" x2="425.96" y2="352.33" stroke="#333" stroke-width="0.9"/>
<line x1="445.24" y1="364.84" x2="445.24" y2="368.04" stroke="#333" stroke-width="0.9"/>
<line x1="448.74" y1="365.37" x2="448.74" y2="368.57" stroke="#333" stroke-width="0.9"/>
<line x1="457.5" y1="365.79" x2="457.5" y2="368.99" stroke="#333" stroke-width="0.9"/>
<line x1="482.03" y1="367.55" x2="482.03" y2="370.75" stroke="#333" stroke-width="0.9"/>
<line x1="492.54" y1="367.55" x2="492.54" y2="370.75" stroke="#333" stroke-width="0.9"/>
<line x1="494.29" y1="367.55" x2="494.29" y2="370.75" stroke="#333" stroke-width="0.9"/>
<path d="M413.7,337.8H417.2V338.63H420.71V344.29H424.21V350.75H427.72V353.43H431.22V353.87H434.72V356.85H438.23V359.66H441.73V359.79H445.24V359.92H448.74V360.04H452.24V360.17H455.75V360.3H459.25V360.42H462.76V361.08H466.26V364.17H469.76H473.27H476.77H480.28H483.78H487.28H490.79H494.29H497.8H501.3" fill="none" stroke="#2e8b3e" stroke-width="0.95" opacity="1"/>
<line x1="424.21" y1="349.15" x2="424.21" y2="352.35" stroke="#2e8b3e" stroke-width="0.9"/>
<line x1="431.22" y1="352.27" x2="431.22" y2="355.47" stroke="#2e8b3e" stroke-width="0.9"/>
<line x1="439.98" y1="358.13" x2="439.98" y2="361.33" stroke="#2e8b3e" stroke-width="0.9"/>
<line x1="448.74" y1="358.44" x2="448.74" y2="361.64" stroke="#2e8b3e" stroke-width="0.9"/>
<line x1="457.5" y1="358.76" x2="457.5" y2="361.96" stroke="#2e8b3e" stroke-width="0.9"/>
<line x1="469.76" y1="362.57" x2="469.76" y2="365.77" stroke="#2e8b3e" stroke-width="0.9"/>
<line x1="476.77" y1="362.57" x2="476.77" y2="365.77" stroke="#2e8b3e" stroke-width="0.9"/>
<line x1="480.28" y1="362.57" x2="480.28" y2="365.77" stroke="#2e8b3e" stroke-width="0.9"/>
<line x1="485.53" y1="362.57" x2="485.53" y2="365.77" stroke="#2e8b3e" stroke-width="0.9"/>
<line x1="490.79" y1="362.57" x2="490.79" y2="365.77" stroke="#2e8b3e" stroke-width="0.9"/>
<line x1="496.04" y1="362.57" x2="496.04" y2="365.77" stroke="#2e8b3e" stroke-width="0.9"/>
<line x1="500.42" y1="362.57" x2="500.42" y2="365.77" stroke="#2e8b3e" stroke-width="0.9"/>
<text font-size="7" text-anchor="end" fill="#1e1e1e" transform="translate(496.9 341.9) scale(1 1.18)">HR:1.07 (0.57−1.98)</text>
<text font-size="7" text-anchor="end" fill="#1e1e1e" transform="translate(496.9 350.1) scale(1 1.18)"><tspan font-style="italic">P</tspan>=0.84</text>
<line x1="44" y1="489.2" x2="133.2" y2="489.2" stroke="#b2b2b2" stroke-width="1.3"/>
<line x1="44" y1="601.4" x2="133.2" y2="601.4" stroke="#b2b2b2" stroke-width="1.3"/>
<line x1="44.5" y1="488.6" x2="44.5" y2="602" stroke="#8e8e8e" stroke-width="1.0"/>
<line x1="132.7" y1="488.6" x2="132.7" y2="602" stroke="#8e8e8e" stroke-width="1.0"/>
<line x1="41.7" y1="597.2" x2="44.5" y2="597.2" stroke="#b2b2b2" stroke-width="1.1"/>
<text font-size="7.8" text-anchor="end" fill="#1e1e1e" transform="translate(40.5 600) scale(1 1.18)">0.0</text>
<line x1="41.7" y1="576.46" x2="44.5" y2="576.46" stroke="#b2b2b2" stroke-width="1.1"/>
<text font-size="7.8" text-anchor="end" fill="#1e1e1e" transform="translate(40.5 579.26) scale(1 1.18)">0.2</text>
<line x1="41.7" y1="555.72" x2="44.5" y2="555.72" stroke="#b2b2b2" stroke-width="1.1"/>
<text font-size="7.8" text-anchor="end" fill="#1e1e1e" transform="translate(40.5 558.52) scale(1 1.18)">0.4</text>
<line x1="41.7" y1="534.98" x2="44.5" y2="534.98" stroke="#b2b2b2" stroke-width="1.1"/>
<text font-size="7.8" text-anchor="end" fill="#1e1e1e" transform="translate(40.5 537.78) scale(1 1.18)">0.6</text>
<line x1="41.7" y1="514.24" x2="44.5" y2="514.24" stroke="#b2b2b2" stroke-width="1.1"/>
<text font-size="7.8" text-anchor="end" fill="#1e1e1e" transform="translate(40.5 517.04) scale(1 1.18)">0.8</text>
<line x1="41.7" y1="493.5" x2="44.5" y2="493.5" stroke="#b2b2b2" stroke-width="1.1"/>
<text font-size="7.8" text-anchor="end" fill="#1e1e1e" transform="translate(40.5 496.3) scale(1 1.18)">1.0</text>
<line x1="44.5" y1="601.4" x2="44.5" y2="604" stroke="#8e8e8e" stroke-width="0.9"/>
<text font-size="7.8" text-anchor="middle" fill="#1e1e1e" transform="translate(44.5 613) scale(1 1.18)">0</text>
<line x1="62.14" y1="601.4" x2="62.14" y2="604" stroke="#8e8e8e" stroke-width="0.9"/>
<text font-size="7.8" text-anchor="middle" fill="#1e1e1e" transform="translate(62.14 613) scale(1 1.18)">1</text>
<line x1="79.78" y1="601.4" x2="79.78" y2="604" stroke="#8e8e8e" stroke-width="0.9"/>
<text font-size="7.8" text-anchor="middle" fill="#1e1e1e" transform="translate(79.78 613) scale(1 1.18)">2</text>
<line x1="97.42" y1="601.4" x2="97.42" y2="604" stroke="#8e8e8e" stroke-width="0.9"/>
<text font-size="7.8" text-anchor="middle" fill="#1e1e1e" transform="translate(97.42 613) scale(1 1.18)">3</text>
<line x1="115.06" y1="601.4" x2="115.06" y2="604" stroke="#8e8e8e" stroke-width="0.9"/>
<text font-size="7.8" text-anchor="middle" fill="#1e1e1e" transform="translate(115.06 613) scale(1 1.18)">4</text>
<line x1="132.7" y1="601.4" x2="132.7" y2="604" stroke="#8e8e8e" stroke-width="0.9"/>
<text font-size="7.8" text-anchor="middle" fill="#1e1e1e" transform="translate(132.7 613) scale(1 1.18)">5</text>
<text font-size="7.8" text-anchor="middle" fill="#1e1e1e" transform="translate(89.2 623.9) scale(1 1.18)">Years</text>
<text font-size="8" text-anchor="middle" fill="#1e1e1e" transform="translate(25.2 540.95) rotate(-90) scale(1 1.1)">Distant metastasis</text>
<path d="M44.5,493.5H47.44V493.55H50.38V493.59H53.32V498.83H56.26V501.45H59.2V502.77H62.14V502.92H65.08V503.07H68.02V503.22H70.96V503.37H73.9V503.52H76.84V503.68H79.78V504.38H82.72V505.08H85.66V506.06H88.6V507.32H91.54V508.48H94.48V509.06H97.42H100.36H103.3H106.24H109.18H112.12H115.06H118H120.94V512.46H123.88V512.68H126.82H129.76H132.7" fill="none" stroke="#2e8b3e" stroke-width="0.95" opacity="1"/>
<line x1="55.08" y1="499.16" x2="55.08" y2="502.36" stroke="#2e8b3e" stroke-width="0.9"/>
<line x1="58.61" y1="501.14" x2="58.61" y2="504.34" stroke="#2e8b3e" stroke-width="0.9"/>
<line x1="62.14" y1="501.32" x2="62.14" y2="504.52" stroke="#2e8b3e" stroke-width="0.9"/>
<line x1="65.67" y1="501.5" x2="65.67" y2="504.7" stroke="#2e8b3e" stroke-width="0.9"/>
<line x1="69.2" y1="501.68" x2="69.2" y2="504.88" stroke="#2e8b3e" stroke-width="0.9"/>
<line x1="83.31" y1="503.62" x2="83.31" y2="506.82" stroke="#2e8b3e" stroke-width="0.9"/>
<line x1="88.6" y1="505.72" x2="88.6" y2="508.92" stroke="#2e8b3e" stroke-width="0.9"/>
<line x1="95.66" y1="507.45" x2="95.66" y2="510.66" stroke="#2e8b3e" stroke-width="0.9"/>
<line x1="99.18" y1="507.45" x2="99.18" y2="510.66" stroke="#2e8b3e" stroke-width="0.9"/>
<line x1="102.71" y1="507.45" x2="102.71" y2="510.66" stroke="#2e8b3e" stroke-width="0.9"/>
<line x1="106.24" y1="507.45" x2="106.24" y2="510.66" stroke="#2e8b3e" stroke-width="0.9"/>
<line x1="109.77" y1="507.45" x2="109.77" y2="510.66" stroke="#2e8b3e" stroke-width="0.9"/>
<line x1="113.3" y1="507.45" x2="113.3" y2="510.66" stroke="#2e8b3e" stroke-width="0.9"/>
<line x1="116.82" y1="507.45" x2="116.82" y2="510.66" stroke="#2e8b3e" stroke-width="0.9"/>
<line x1="123.88" y1="511.08" x2="123.88" y2="514.28" stroke="#2e8b3e" stroke-width="0.9"/>
<line x1="127.41" y1="511.08" x2="127.41" y2="514.28" stroke="#2e8b3e" stroke-width="0.9"/>
<line x1="130.94" y1="511.08" x2="130.94" y2="514.28" stroke="#2e8b3e" stroke-width="0.9"/>
<path d="M44.5,493.5H48.03V493.56H51.56V494.46H55.08V502.01H58.61V505.36H62.14V506.72H65.67V507.44H69.2V508.15H72.72V509.81H76.25V509.99H79.78H83.31H86.84V512.68H90.36H93.89H97.42H100.95H104.48H108H111.53H115.06H118.59H122.12H125.64H129.17H132.7" fill="none" stroke="#333" stroke-width="0.95" opacity="1"/>
<line x1="69.2" y1="506.55" x2="69.2" y2="509.75" stroke="#333" stroke-width="0.9"/>
<line x1="74.49" y1="508.39" x2="74.49" y2="511.59" stroke="#333" stroke-width="0.9"/>
<line x1="88.6" y1="511.08" x2="88.6" y2="514.28" stroke="#333" stroke-width="0.9"/>
<line x1="92.13" y1="511.08" x2="92.13" y2="514.28" stroke="#333" stroke-width="0.9"/>
<line x1="95.66" y1="511.08" x2="95.66" y2="514.28" stroke="#333" stroke-width="0.9"/>
<line x1="108" y1="511.08" x2="108" y2="514.28" stroke="#333" stroke-width="0.9"/>
<line x1="111.53" y1="511.08" x2="111.53" y2="514.28" stroke="#333" stroke-width="0.9"/>
<line x1="115.06" y1="511.08" x2="115.06" y2="514.28" stroke="#333" stroke-width="0.9"/>
<line x1="118.59" y1="511.08" x2="118.59" y2="514.28" stroke="#333" stroke-width="0.9"/>
<line x1="123.88" y1="511.08" x2="123.88" y2="514.28" stroke="#333" stroke-width="0.9"/>
<path d="M44.5,493.5H47.44V493.55H50.38V493.59H53.32V501.02H56.26V503.22H59.2V505.38H62.14V511.52H65.08V516.51H68.02V518.84H70.96V520.23H73.9V520.61H76.84V521.05H79.78V524.67H82.72V525.54H85.66H88.6H91.54H94.48H97.42V526.14H100.36V528.55H103.3H106.24H109.18H112.12H115.06H118H120.94H123.88H126.82H129.76H132.7" fill="none" stroke="#b22222" stroke-width="0.95" opacity="1"/>
<line x1="70.96" y1="518.63" x2="70.96" y2="521.83" stroke="#b22222" stroke-width="0.9"/>
<line x1="81.54" y1="523.94" x2="81.54" y2="527.14" stroke="#b22222" stroke-width="0.9"/>
<line x1="85.07" y1="523.94" x2="85.07" y2="527.14" stroke="#b22222" stroke-width="0.9"/>
<line x1="90.36" y1="523.94" x2="90.36" y2="527.14" stroke="#b22222" stroke-width="0.9"/>
<line x1="102.71" y1="526.95" x2="102.71" y2="530.15" stroke="#b22222" stroke-width="0.9"/>
<line x1="108" y1="526.95" x2="108" y2="530.15" stroke="#b22222" stroke-width="0.9"/>
<line x1="113.3" y1="526.95" x2="113.3" y2="530.15" stroke="#b22222" stroke-width="0.9"/>
<line x1="116.82" y1="526.95" x2="116.82" y2="530.15" stroke="#b22222" stroke-width="0.9"/>
<line x1="120.35" y1="526.95" x2="120.35" y2="530.15" stroke="#b22222" stroke-width="0.9"/>
<line x1="123.88" y1="526.95" x2="123.88" y2="530.15" stroke="#b22222" stroke-width="0.9"/>
<line x1="129.17" y1="526.95" x2="129.17" y2="530.15" stroke="#b22222" stroke-width="0.9"/>
<line x1="130.94" y1="526.95" x2="130.94" y2="530.15" stroke="#b22222" stroke-width="0.9"/>
<text font-size="7" text-anchor="end" fill="#1e1e1e" transform="translate(132 497.3) scale(1 1.18)">HR:2.07 (1.07−4.00)</text>
<text font-size="7" text-anchor="end" fill="#1e1e1e" transform="translate(132 505.5) scale(1 1.18)"><tspan font-style="italic">P</tspan>=0.030</text>
<line x1="166.6" y1="489.2" x2="255.55" y2="489.2" stroke="#b2b2b2" stroke-width="1.3"/>
<line x1="166.6" y1="601.4" x2="255.55" y2="601.4" stroke="#b2b2b2" stroke-width="1.3"/>
<line x1="167.1" y1="488.6" x2="167.1" y2="602" stroke="#8e8e8e" stroke-width="1.0"/>
<line x1="255.05" y1="488.6" x2="255.05" y2="602" stroke="#8e8e8e" stroke-width="1.0"/>
<line x1="164.3" y1="597.2" x2="167.1" y2="597.2" stroke="#b2b2b2" stroke-width="1.1"/>
<text font-size="7.8" text-anchor="end" fill="#1e1e1e" transform="translate(162.1 600) scale(1 1.18)">0.0</text>
<line x1="164.3" y1="576.46" x2="167.1" y2="576.46" stroke="#b2b2b2" stroke-width="1.1"/>
<text font-size="7.8" text-anchor="end" fill="#1e1e1e" transform="translate(162.1 579.26) scale(1 1.18)">0.2</text>
<line x1="164.3" y1="555.72" x2="167.1" y2="555.72" stroke="#b2b2b2" stroke-width="1.1"/>
<text font-size="7.8" text-anchor="end" fill="#1e1e1e" transform="translate(162.1 558.52) scale(1 1.18)">0.4</text>
<line x1="164.3" y1="534.98" x2="167.1" y2="534.98" stroke="#b2b2b2" stroke-width="1.1"/>
<text font-size="7.8" text-anchor="end" fill="#1e1e1e" transform="translate(162.1 537.78) scale(1 1.18)">0.6</text>
<line x1="164.3" y1="514.24" x2="167.1" y2="514.24" stroke="#b2b2b2" stroke-width="1.1"/>
<text font-size="7.8" text-anchor="end" fill="#1e1e1e" transform="translate(162.1 517.04) scale(1 1.18)">0.8</text>
<line x1="164.3" y1="493.5" x2="167.1" y2="493.5" stroke="#b2b2b2" stroke-width="1.1"/>
<text font-size="7.8" text-anchor="end" fill="#1e1e1e" transform="translate(162.1 496.3) scale(1 1.18)">1.0</text>
<line x1="167.1" y1="601.4" x2="167.1" y2="604" stroke="#8e8e8e" stroke-width="0.9"/>
<text font-size="7.8" text-anchor="middle" fill="#1e1e1e" transform="translate(167.1 613) scale(1 1.18)">0</text>
<line x1="184.69" y1="601.4" x2="184.69" y2="604" stroke="#8e8e8e" stroke-width="0.9"/>
<text font-size="7.8" text-anchor="middle" fill="#1e1e1e" transform="translate(184.69 613) scale(1 1.18)">1</text>
<line x1="202.28" y1="601.4" x2="202.28" y2="604" stroke="#8e8e8e" stroke-width="0.9"/>
<text font-size="7.8" text-anchor="middle" fill="#1e1e1e" transform="translate(202.28 613) scale(1 1.18)">2</text>
<line x1="219.87" y1="601.4" x2="219.87" y2="604" stroke="#8e8e8e" stroke-width="0.9"/>
<text font-size="7.8" text-anchor="middle" fill="#1e1e1e" transform="translate(219.87 613) scale(1 1.18)">3</text>
<line x1="237.46" y1="601.4" x2="237.46" y2="604" stroke="#8e8e8e" stroke-width="0.9"/>
<text font-size="7.8" text-anchor="middle" fill="#1e1e1e" transform="translate(237.46 613) scale(1 1.18)">4</text>
<line x1="255.05" y1="601.4" x2="255.05" y2="604" stroke="#8e8e8e" stroke-width="0.9"/>
<text font-size="7.8" text-anchor="middle" fill="#1e1e1e" transform="translate(255.05 613) scale(1 1.18)">5</text>
<text font-size="7.8" text-anchor="middle" fill="#1e1e1e" transform="translate(211.67 623.9) scale(1 1.18)">Years</text>
<text font-size="8" text-anchor="middle" fill="#1e1e1e" transform="translate(145.5 540.95) rotate(-90) scale(1 1.1)">Distant metastasis</text>
<line x1="290.7" y1="489.2" x2="379.65" y2="489.2" stroke="#b2b2b2" stroke-width="1.3"/>
<line x1="290.7" y1="601.4" x2="379.65" y2="601.4" stroke="#b2b2b2" stroke-width="1.3"/>
<line x1="291.2" y1="488.6" x2="291.2" y2="602" stroke="#8e8e8e" stroke-width="1.0"/>
<line x1="379.15" y1="488.6" x2="379.15" y2="602" stroke="#8e8e8e" stroke-width="1.0"/>
<line x1="288.4" y1="597.2" x2="291.2" y2="597.2" stroke="#b2b2b2" stroke-width="1.1"/>
<text font-size="7.8" text-anchor="end" fill="#1e1e1e" transform="translate(286.2 600) scale(1 1.18)">0.0</text>
<line x1="288.4" y1="576.46" x2="291.2" y2="576.46" stroke="#b2b2b2" stroke-width="1.1"/>
<text font-size="7.8" text-anchor="end" fill="#1e1e1e" transform="translate(286.2 579.26) scale(1 1.18)">0.2</text>
<line x1="288.4" y1="555.72" x2="291.2" y2="555.72" stroke="#b2b2b2" stroke-width="1.1"/>
<text font-size="7.8" text-anchor="end" fill="#1e1e1e" transform="translate(286.2 558.52) scale(1 1.18)">0.4</text>
<line x1="288.4" y1="534.98" x2="291.2" y2="534.98" stroke="#b2b2b2" stroke-width="1.1"/>
<text font-size="7.8" text-anchor="end" fill="#1e1e1e" transform="translate(286.2 537.78) scale(1 1.18)">0.6</text>
<line x1="288.4" y1="514.24" x2="291.2" y2="514.24" stroke="#b2b2b2" stroke-width="1.1"/>
<text font-size="7.8" text-anchor="end" fill="#1e1e1e" transform="translate(286.2 517.04) scale(1 1.18)">0.8</text>
<line x1="288.4" y1="493.5" x2="291.2" y2="493.5" stroke="#b2b2b2" stroke-width="1.1"/>
<text font-size="7.8" text-anchor="end" fill="#1e1e1e" transform="translate(286.2 496.3) scale(1 1.18)">1.0</text>
<line x1="291.2" y1="601.4" x2="291.2" y2="604" stroke="#8e8e8e" stroke-width="0.9"/>
<text font-size="7.8" text-anchor="middle" fill="#1e1e1e" transform="translate(291.2 613) scale(1 1.18)">0</text>
<line x1="308.79" y1="601.4" x2="308.79" y2="604" stroke="#8e8e8e" stroke-width="0.9"/>
<text font-size="7.8" text-anchor="middle" fill="#1e1e1e" transform="translate(308.79 613) scale(1 1.18)">1</text>
<line x1="326.38" y1="601.4" x2="326.38" y2="604" stroke="#8e8e8e" stroke-width="0.9"/>
<text font-size="7.8" text-anchor="middle" fill="#1e1e1e" transform="translate(326.38 613) scale(1 1.18)">2</text>
<line x1="343.97" y1="601.4" x2="343.97" y2="604" stroke="#8e8e8e" stroke-width="0.9"/>
<text font-size="7.8" text-anchor="middle" fill="#1e1e1e" transform="translate(343.97 613) scale(1 1.18)">3</text>
<line x1="361.56" y1="601.4" x2="361.56" y2="604" stroke="#8e8e8e" stroke-width="0.9"/>
<text font-size="7.8" text-anchor="middle" fill="#1e1e1e" transform="translate(361.56 613) scale(1 1.18)">4</text>
<line x1="379.15" y1="601.4" x2="379.15" y2="604" stroke="#8e8e8e" stroke-width="0.9"/>
<text font-size="7.8" text-anchor="middle" fill="#1e1e1e" transform="translate(379.15 613) scale(1 1.18)">5</text>
<text font-size="7.8" text-anchor="middle" fill="#1e1e1e" transform="translate(335.77 623.9) scale(1 1.18)">Years</text>
<text font-size="8" text-anchor="middle" fill="#1e1e1e" transform="translate(269.6 540.95) rotate(-90) scale(1 1.1)">Distant metastasis</text>
<text font-size="8.6" fill="#1e1e1e" transform="translate(173.2 482.4) scale(1 1.12)" textLength="38.4" lengthAdjust="spacingAndGlyphs">&#8805;200mg/m</text>
<text font-size="4.4" fill="#1e1e1e" transform="translate(211.8 479) scale(1 1.12)">2</text>
<text font-size="8.8" fill="#1e1e1e" transform="translate(214.9 482.4) scale(1 1.12)" textLength="31.6" lengthAdjust="spacingAndGlyphs">cisplatin</text>
<text font-size="8.6" fill="#1e1e1e" transform="translate(298.2 482.4) scale(1 1.12)" textLength="39" lengthAdjust="spacingAndGlyphs">&lt;200mg/m</text>
<text font-size="4.4" fill="#1e1e1e" transform="translate(337.4 479) scale(1 1.12)">2</text>
<text font-size="8.8" fill="#1e1e1e" transform="translate(341.2 482.4) scale(1 1.12)" textLength="32" lengthAdjust="spacingAndGlyphs">cisplatin</text>
<path d="M167.1,493.5H170.03V493.55H172.96V493.6H175.89V497.34H178.83V500.22H181.76V501.51H184.69V502.19H187.62V502.79H190.55V503.38H193.48V503.83H196.42V504.02H199.35V504.21H202.28V504.4H205.21V504.59H208.14V506.46H211.07H214.01H216.94H219.87H222.8H225.73H228.67H231.6H234.53H237.46H240.39V506.83H243.32V508.64H246.25H249.19H252.12H255.05" fill="none" stroke="#333" stroke-width="0.95" opacity="1"/>
<line x1="184.69" y1="500.59" x2="184.69" y2="503.79" stroke="#333" stroke-width="0.9"/>
<line x1="186.45" y1="500.95" x2="186.45" y2="504.15" stroke="#333" stroke-width="0.9"/>
<line x1="191.73" y1="502.02" x2="191.73" y2="505.22" stroke="#333" stroke-width="0.9"/>
<line x1="211.07" y1="504.86" x2="211.07" y2="508.06" stroke="#333" stroke-width="0.9"/>
<line x1="212.83" y1="504.86" x2="212.83" y2="508.06" stroke="#333" stroke-width="0.9"/>
<line x1="216.35" y1="504.86" x2="216.35" y2="508.06" stroke="#333" stroke-width="0.9"/>
<line x1="219.87" y1="504.86" x2="219.87" y2="508.06" stroke="#333" stroke-width="0.9"/>
<line x1="223.39" y1="504.86" x2="223.39" y2="508.06" stroke="#333" stroke-width="0.9"/>
<line x1="226.91" y1="504.86" x2="226.91" y2="508.06" stroke="#333" stroke-width="0.9"/>
<line x1="230.42" y1="504.86" x2="230.42" y2="508.06" stroke="#333" stroke-width="0.9"/>
<line x1="233.94" y1="504.86" x2="233.94" y2="508.06" stroke="#333" stroke-width="0.9"/>
<line x1="242.74" y1="507.04" x2="242.74" y2="510.24" stroke="#333" stroke-width="0.9"/>
<line x1="244.5" y1="507.04" x2="244.5" y2="510.24" stroke="#333" stroke-width="0.9"/>
<line x1="248.01" y1="507.04" x2="248.01" y2="510.24" stroke="#333" stroke-width="0.9"/>
<line x1="253.29" y1="507.04" x2="253.29" y2="510.24" stroke="#333" stroke-width="0.9"/>
<path d="M167.1,493.5H174.14H175.02V499.1H177.65V501.9H182.4V504.6H183.28V507.4H185.92V513.72H187.86V519.22H191.55V521.91H198.76V522.85H200.7V529.28H219.87H220.93V534.25H255.05" fill="none" stroke="#f04444" stroke-width="0.95" opacity="1"/>
<line x1="188.21" y1="517.62" x2="188.21" y2="520.82" stroke="#f04444" stroke-width="0.9"/>
<line x1="193.48" y1="520.31" x2="193.48" y2="523.51" stroke="#f04444" stroke-width="0.9"/>
<line x1="195.24" y1="520.31" x2="195.24" y2="523.51" stroke="#f04444" stroke-width="0.9"/>
<line x1="197" y1="520.31" x2="197" y2="523.51" stroke="#f04444" stroke-width="0.9"/>
<line x1="204.04" y1="527.68" x2="204.04" y2="530.88" stroke="#f04444" stroke-width="0.9"/>
<line x1="207.56" y1="527.68" x2="207.56" y2="530.88" stroke="#f04444" stroke-width="0.9"/>
<line x1="211.07" y1="527.68" x2="211.07" y2="530.88" stroke="#f04444" stroke-width="0.9"/>
<line x1="216.35" y1="527.68" x2="216.35" y2="530.88" stroke="#f04444" stroke-width="0.9"/>
<line x1="228.67" y1="532.65" x2="228.67" y2="535.85" stroke="#f04444" stroke-width="0.9"/>
<line x1="233.94" y1="532.65" x2="233.94" y2="535.85" stroke="#f04444" stroke-width="0.9"/>
<line x1="239.22" y1="532.65" x2="239.22" y2="535.85" stroke="#f04444" stroke-width="0.9"/>
<line x1="244.5" y1="532.65" x2="244.5" y2="535.85" stroke="#f04444" stroke-width="0.9"/>
<line x1="248.01" y1="532.65" x2="248.01" y2="535.85" stroke="#f04444" stroke-width="0.9"/>
<line x1="251.53" y1="532.65" x2="251.53" y2="535.85" stroke="#f04444" stroke-width="0.9"/>
<text font-size="6.8" text-anchor="start" fill="#1e1e1e" transform="translate(173.3 548.3) scale(1 1.18)">HR:3.24 (1.42−7.42)</text>
<text font-size="6.8" text-anchor="start" fill="#1e1e1e" transform="translate(173.3 556.3) scale(1 1.18)"><tspan font-style="italic">P</tspan>=0.0054</text>
<text font-size="6.8" text-anchor="start" fill="#1e1e1e" transform="translate(171.7 582) scale(1 1.18)" font-style="italic">LRRC8D gene expression</text>
<line x1="172" y1="588.5" x2="182.5" y2="588.5" stroke="#333" stroke-width="1.1"/>
<text font-size="6.8" text-anchor="start" fill="#1e1e1e" transform="translate(186.5 590.9) scale(1 1.18)">High (<tspan font-style="italic">n</tspan>=77)</text>
<line x1="172" y1="595.2" x2="182.5" y2="595.2" stroke="#f04444" stroke-width="1.1"/>
<text font-size="6.8" text-anchor="start" fill="#1e1e1e" transform="translate(186.5 597.6) scale(1 1.18)">Low (<tspan font-style="italic">n</tspan>=37)</text>
<path d="M291.2,493.5H298.24H300.17V497.34H301.93V501.9H304.74V505.53H307.38V511.03H320.22H321.28V515.28H332.18H333.06V518.28H337.64V519.22H339.57V522.85H379.15" fill="none" stroke="#333" stroke-width="0.95" opacity="1"/>
<line x1="301.75" y1="495.74" x2="301.75" y2="498.94" stroke="#333" stroke-width="0.9"/>
<line x1="305.27" y1="503.93" x2="305.27" y2="507.13" stroke="#333" stroke-width="0.9"/>
<line x1="308.79" y1="509.43" x2="308.79" y2="512.63" stroke="#333" stroke-width="0.9"/>
<line x1="331.66" y1="513.68" x2="331.66" y2="516.88" stroke="#333" stroke-width="0.9"/>
<line x1="351.01" y1="521.25" x2="351.01" y2="524.45" stroke="#333" stroke-width="0.9"/>
<line x1="354.52" y1="521.25" x2="354.52" y2="524.45" stroke="#333" stroke-width="0.9"/>
<line x1="356.28" y1="521.25" x2="356.28" y2="524.45" stroke="#333" stroke-width="0.9"/>
<line x1="359.8" y1="521.25" x2="359.8" y2="524.45" stroke="#333" stroke-width="0.9"/>
<line x1="363.32" y1="521.25" x2="363.32" y2="524.45" stroke="#333" stroke-width="0.9"/>
<line x1="366.84" y1="521.25" x2="366.84" y2="524.45" stroke="#333" stroke-width="0.9"/>
<line x1="370.36" y1="521.25" x2="370.36" y2="524.45" stroke="#333" stroke-width="0.9"/>
<line x1="372.11" y1="521.25" x2="372.11" y2="524.45" stroke="#333" stroke-width="0.9"/>
<line x1="377.39" y1="521.25" x2="377.39" y2="524.45" stroke="#333" stroke-width="0.9"/>
<path d="M291.2,493.5H300.7V504.28H305.62H308.09V510.09H315.65V511.03H315.83V517.35H379.15" fill="none" stroke="#f04444" stroke-width="0.95" opacity="1"/>
<line x1="292.96" y1="491.9" x2="292.96" y2="495.1" stroke="#f04444" stroke-width="0.9"/>
<line x1="294.72" y1="491.9" x2="294.72" y2="495.1" stroke="#f04444" stroke-width="0.9"/>
<line x1="307.03" y1="502.68" x2="307.03" y2="505.88" stroke="#f04444" stroke-width="0.9"/>
<line x1="310.55" y1="508.49" x2="310.55" y2="511.69" stroke="#f04444" stroke-width="0.9"/>
<line x1="326.38" y1="515.75" x2="326.38" y2="518.95" stroke="#f04444" stroke-width="0.9"/>
<line x1="333.42" y1="515.75" x2="333.42" y2="518.95" stroke="#f04444" stroke-width="0.9"/>
<line x1="363.32" y1="515.75" x2="363.32" y2="518.95" stroke="#f04444" stroke-width="0.9"/>
<line x1="370.36" y1="515.75" x2="370.36" y2="518.95" stroke="#f04444" stroke-width="0.9"/>
<line x1="372.11" y1="515.75" x2="372.11" y2="518.95" stroke="#f04444" stroke-width="0.9"/>
<text font-size="6.8" text-anchor="start" fill="#1e1e1e" transform="translate(297.8 549.5) scale(1 1.18)">HR:0.89 (0.27−2.89)</text>
<text font-size="6.8" text-anchor="start" fill="#1e1e1e" transform="translate(297.8 557.5) scale(1 1.18)"><tspan font-style="italic">P</tspan>=0.85</text>
<text font-size="6.8" text-anchor="start" fill="#1e1e1e" transform="translate(295.5 582) scale(1 1.18)"><tspan font-style="italic">LRRC8D</tspan> gene expression</text>
<line x1="295.8" y1="588.5" x2="306.3" y2="588.5" stroke="#333" stroke-width="1.1"/>
<text font-size="6.8" text-anchor="start" fill="#1e1e1e" transform="translate(310.3 590.9) scale(1 1.18)">High (<tspan font-style="italic">n</tspan>=40)</text>
<line x1="295.8" y1="595.2" x2="306.3" y2="595.2" stroke="#f04444" stroke-width="1.1"/>
<text font-size="6.8" text-anchor="start" fill="#1e1e1e" transform="translate(310.3 597.6) scale(1 1.18)">Low (<tspan font-style="italic">n</tspan>=23)</text>
<line x1="422" y1="486.6" x2="422" y2="526.3" stroke="#ebebeb" stroke-width="0.9"/>
<line x1="431.3" y1="486.6" x2="431.3" y2="526.3" stroke="#ebebeb" stroke-width="0.9"/>
<line x1="440.5" y1="486.6" x2="440.5" y2="526.3" stroke="#ebebeb" stroke-width="0.9"/>
<line x1="449.7" y1="486.6" x2="449.7" y2="526.3" stroke="#ebebeb" stroke-width="0.9"/>
<line x1="458.9" y1="486.6" x2="458.9" y2="526.3" stroke="#ebebeb" stroke-width="0.9"/>
<line x1="468.2" y1="486.6" x2="468.2" y2="526.3" stroke="#ebebeb" stroke-width="0.9"/>
<line x1="477.4" y1="486.6" x2="477.4" y2="526.3" stroke="#ebebeb" stroke-width="0.9"/>
<line x1="486.6" y1="486.6" x2="486.6" y2="526.3" stroke="#ebebeb" stroke-width="0.9"/>
<line x1="496.6" y1="486.6" x2="496.6" y2="526.3" stroke="#ebebeb" stroke-width="0.9"/>
<line x1="505.8" y1="486.6" x2="505.8" y2="526.3" stroke="#ebebeb" stroke-width="0.9"/>
<line x1="515" y1="486.6" x2="515" y2="526.3" stroke="#ebebeb" stroke-width="0.9"/>
<line x1="416.6" y1="492.4" x2="520" y2="492.4" stroke="#ebebeb" stroke-width="0.9"/>
<line x1="416.6" y1="501.8" x2="520" y2="501.8" stroke="#ebebeb" stroke-width="0.9"/>
<line x1="416.6" y1="511.5" x2="520" y2="511.5" stroke="#ebebeb" stroke-width="0.9"/>
<line x1="416.6" y1="521.2" x2="520" y2="521.2" stroke="#ebebeb" stroke-width="0.9"/>
<line x1="468.2" y1="486.6" x2="468.2" y2="526.3" stroke="#d6d6d6" stroke-width="1.3"/>
<path d="M520,486.6 H416.6 V526.3 H520" fill="none" stroke="#9a9a9a" stroke-width="1.1"/>
<line x1="422" y1="526.3" x2="422" y2="528.5" stroke="#9a9a9a" stroke-width="0.8"/>
<line x1="431.3" y1="526.3" x2="431.3" y2="528.5" stroke="#9a9a9a" stroke-width="0.8"/>
<line x1="440.5" y1="526.3" x2="440.5" y2="528.5" stroke="#9a9a9a" stroke-width="0.8"/>
<line x1="449.7" y1="526.3" x2="449.7" y2="528.5" stroke="#9a9a9a" stroke-width="0.8"/>
<line x1="458.9" y1="526.3" x2="458.9" y2="528.5" stroke="#9a9a9a" stroke-width="0.8"/>
<line x1="468.2" y1="526.3" x2="468.2" y2="528.5" stroke="#9a9a9a" stroke-width="0.8"/>
<line x1="477.4" y1="526.3" x2="477.4" y2="528.5" stroke="#9a9a9a" stroke-width="0.8"/>
<line x1="486.6" y1="526.3" x2="486.6" y2="528.5" stroke="#9a9a9a" stroke-width="0.8"/>
<line x1="496.6" y1="526.3" x2="496.6" y2="528.5" stroke="#9a9a9a" stroke-width="0.8"/>
<line x1="505.8" y1="526.3" x2="505.8" y2="528.5" stroke="#9a9a9a" stroke-width="0.8"/>
<line x1="515" y1="526.3" x2="515" y2="528.5" stroke="#9a9a9a" stroke-width="0.8"/>
<text font-size="7" text-anchor="end" fill="#4d4d4d" transform="translate(423.6 529.7) rotate(-90) scale(1 1.1)" style="stroke:#4d4d4d;stroke-width:0.1px">1/6</text>
<text font-size="7" text-anchor="end" fill="#4d4d4d" transform="translate(432.9 529.7) rotate(-90) scale(1 1.1)" style="stroke:#4d4d4d;stroke-width:0.1px">1/5</text>
<text font-size="7" text-anchor="end" fill="#4d4d4d" transform="translate(442.1 529.7) rotate(-90) scale(1 1.1)" style="stroke:#4d4d4d;stroke-width:0.1px">1/4</text>
<text font-size="7" text-anchor="end" fill="#4d4d4d" transform="translate(451.3 529.7) rotate(-90) scale(1 1.1)" style="stroke:#4d4d4d;stroke-width:0.1px">1/3</text>
<text font-size="7" text-anchor="end" fill="#4d4d4d" transform="translate(460.5 529.7) rotate(-90) scale(1 1.1)" style="stroke:#4d4d4d;stroke-width:0.1px">1/2</text>
<text font-size="7" text-anchor="end" fill="#4d4d4d" transform="translate(469.8 529.7) rotate(-90) scale(1 1.1)" style="stroke:#4d4d4d;stroke-width:0.1px">1</text>
<text font-size="7" text-anchor="end" fill="#4d4d4d" transform="translate(479 529.7) rotate(-90) scale(1 1.1)" style="stroke:#4d4d4d;stroke-width:0.1px">2</text>
<text font-size="7" text-anchor="end" fill="#4d4d4d" transform="translate(488.2 529.7) rotate(-90) scale(1 1.1)" style="stroke:#4d4d4d;stroke-width:0.1px">3</text>
<text font-size="7" text-anchor="end" fill="#4d4d4d" transform="translate(498.2 529.7) rotate(-90) scale(1 1.1)" style="stroke:#4d4d4d;stroke-width:0.1px">4</text>
<text font-size="7" text-anchor="end" fill="#4d4d4d" transform="translate(507.4 529.7) rotate(-90) scale(1 1.1)" style="stroke:#4d4d4d;stroke-width:0.1px">5</text>
<text font-size="7" text-anchor="end" fill="#4d4d4d" transform="translate(516.6 529.7) rotate(-90) scale(1 1.1)" style="stroke:#4d4d4d;stroke-width:0.1px">6</text>
<text font-size="8.3" text-anchor="end" fill="#1e1e1e" transform="translate(412.2 495.4) scale(1 1)">OS</text>
<line x1="414.4" y1="492.4" x2="416.6" y2="492.4" stroke="#9a9a9a" stroke-width="0.9"/>
<line x1="470.4" y1="492.4" x2="500.9" y2="492.4" stroke="#333" stroke-width="1.1"/>
<line x1="470.4" y1="489.9" x2="470.4" y2="494.9" stroke="#333" stroke-width="1"/>
<line x1="500.9" y1="489.9" x2="500.9" y2="494.9" stroke="#333" stroke-width="1"/>
<circle cx="480.8" cy="492.4" r="1.7" fill="#000"/>
<text font-size="8.3" text-anchor="end" fill="#1e1e1e" transform="translate(412.2 504.8) scale(1 1)">PFS</text>
<line x1="414.4" y1="501.8" x2="416.6" y2="501.8" stroke="#9a9a9a" stroke-width="0.9"/>
<line x1="470.4" y1="501.8" x2="499.2" y2="501.8" stroke="#333" stroke-width="1.1"/>
<line x1="470.4" y1="499.3" x2="470.4" y2="504.3" stroke="#333" stroke-width="1"/>
<line x1="499.2" y1="499.3" x2="499.2" y2="504.3" stroke="#333" stroke-width="1"/>
<circle cx="480.1" cy="501.8" r="1.7" fill="#000"/>
<text font-size="8.3" text-anchor="end" fill="#1e1e1e" transform="translate(412.2 514.5) scale(1 1)">LRC</text>
<line x1="414.4" y1="511.5" x2="416.6" y2="511.5" stroke="#9a9a9a" stroke-width="0.9"/>
<line x1="464.6" y1="511.5" x2="511.5" y2="511.5" stroke="#333" stroke-width="1.1"/>
<line x1="464.6" y1="509" x2="464.6" y2="514" stroke="#333" stroke-width="1"/>
<line x1="511.5" y1="509" x2="511.5" y2="514" stroke="#333" stroke-width="1"/>
<circle cx="477.8" cy="511.5" r="1.7" fill="#000"/>
<text font-size="8.3" text-anchor="end" fill="#1e1e1e" transform="translate(412.2 524.2) scale(1 1)">DM</text>
<line x1="414.4" y1="521.2" x2="416.6" y2="521.2" stroke="#9a9a9a" stroke-width="0.9"/>
<line x1="469.2" y1="521.2" x2="520" y2="521.2" stroke="#333" stroke-width="1.1"/>
<line x1="469.2" y1="518.7" x2="469.2" y2="523.7" stroke="#333" stroke-width="1"/>
<circle cx="485.4" cy="521.2" r="1.7" fill="#000"/>
<line x1="422" y1="562" x2="422" y2="601.8" stroke="#ebebeb" stroke-width="0.9"/>
<line x1="431.3" y1="562" x2="431.3" y2="601.8" stroke="#ebebeb" stroke-width="0.9"/>
<line x1="440.5" y1="562" x2="440.5" y2="601.8" stroke="#ebebeb" stroke-width="0.9"/>
<line x1="449.7" y1="562" x2="449.7" y2="601.8" stroke="#ebebeb" stroke-width="0.9"/>
<line x1="458.9" y1="562" x2="458.9" y2="601.8" stroke="#ebebeb" stroke-width="0.9"/>
<line x1="468.2" y1="562" x2="468.2" y2="601.8" stroke="#ebebeb" stroke-width="0.9"/>
<line x1="477.4" y1="562" x2="477.4" y2="601.8" stroke="#ebebeb" stroke-width="0.9"/>
<line x1="486.6" y1="562" x2="486.6" y2="601.8" stroke="#ebebeb" stroke-width="0.9"/>
<line x1="496.6" y1="562" x2="496.6" y2="601.8" stroke="#ebebeb" stroke-width="0.9"/>
<line x1="505.8" y1="562" x2="505.8" y2="601.8" stroke="#ebebeb" stroke-width="0.9"/>
<line x1="515" y1="562" x2="515" y2="601.8" stroke="#ebebeb" stroke-width="0.9"/>
<line x1="416.6" y1="567.3" x2="520" y2="567.3" stroke="#ebebeb" stroke-width="0.9"/>
<line x1="416.6" y1="577.2" x2="520" y2="577.2" stroke="#ebebeb" stroke-width="0.9"/>
<line x1="416.6" y1="586.5" x2="520" y2="586.5" stroke="#ebebeb" stroke-width="0.9"/>
<line x1="416.6" y1="596.6" x2="520" y2="596.6" stroke="#ebebeb" stroke-width="0.9"/>
<path d="M520,562 H416.6 V601.8 H520" fill="none" stroke="#9a9a9a" stroke-width="1.1"/>
<line x1="422" y1="601.8" x2="422" y2="604" stroke="#9a9a9a" stroke-width="0.8"/>
<line x1="431.3" y1="601.8" x2="431.3" y2="604" stroke="#9a9a9a" stroke-width="0.8"/>
<line x1="440.5" y1="601.8" x2="440.5" y2="604" stroke="#9a9a9a" stroke-width="0.8"/>
<line x1="449.7" y1="601.8" x2="449.7" y2="604" stroke="#9a9a9a" stroke-width="0.8"/>
<line x1="458.9" y1="601.8" x2="458.9" y2="604" stroke="#9a9a9a" stroke-width="0.8"/>
<line x1="468.2" y1="601.8" x2="468.2" y2="604" stroke="#9a9a9a" stroke-width="0.8"/>
<line x1="477.4" y1="601.8" x2="477.4" y2="604" stroke="#9a9a9a" stroke-width="0.8"/>
<line x1="486.6" y1="601.8" x2="486.6" y2="604" stroke="#9a9a9a" stroke-width="0.8"/>
<line x1="496.6" y1="601.8" x2="496.6" y2="604" stroke="#9a9a9a" stroke-width="0.8"/>
<line x1="505.8" y1="601.8" x2="505.8" y2="604" stroke="#9a9a9a" stroke-width="0.8"/>
<line x1="515" y1="601.8" x2="515" y2="604" stroke="#9a9a9a" stroke-width="0.8"/>
<text font-size="7" text-anchor="end" fill="#4d4d4d" transform="translate(423.6 605.2) rotate(-90) scale(1 1.1)" style="stroke:#4d4d4d;stroke-width:0.1px">1/6</text>
<text font-size="7" text-anchor="end" fill="#4d4d4d" transform="translate(432.9 605.2) rotate(-90) scale(1 1.1)" style="stroke:#4d4d4d;stroke-width:0.1px">1/5</text>
<text font-size="7" text-anchor="end" fill="#4d4d4d" transform="translate(442.1 605.2) rotate(-90) scale(1 1.1)" style="stroke:#4d4d4d;stroke-width:0.1px">1/4</text>
<text font-size="7" text-anchor="end" fill="#4d4d4d" transform="translate(451.3 605.2) rotate(-90) scale(1 1.1)" style="stroke:#4d4d4d;stroke-width:0.1px">1/3</text>
<text font-size="7" text-anchor="end" fill="#4d4d4d" transform="translate(460.5 605.2) rotate(-90) scale(1 1.1)" style="stroke:#4d4d4d;stroke-width:0.1px">1/2</text>
<text font-size="7" text-anchor="end" fill="#4d4d4d" transform="translate(469.8 605.2) rotate(-90) scale(1 1.1)" style="stroke:#4d4d4d;stroke-width:0.1px">1</text>
<text font-size="7" text-anchor="end" fill="#4d4d4d" transform="translate(479 605.2) rotate(-90) scale(1 1.1)" style="stroke:#4d4d4d;stroke-width:0.1px">2</text>
<text font-size="7" text-anchor="end" fill="#4d4d4d" transform="translate(488.2 605.2) rotate(-90) scale(1 1.1)" style="stroke:#4d4d4d;stroke-width:0.1px">3</text>
<text font-size="7" text-anchor="end" fill="#4d4d4d" transform="translate(498.2 605.2) rotate(-90) scale(1 1.1)" style="stroke:#4d4d4d;stroke-width:0.1px">4</text>
<text font-size="7" text-anchor="end" fill="#4d4d4d" transform="translate(507.4 605.2) rotate(-90) scale(1 1.1)" style="stroke:#4d4d4d;stroke-width:0.1px">5</text>
<text font-size="7" text-anchor="end" fill="#4d4d4d" transform="translate(516.6 605.2) rotate(-90) scale(1 1.1)" style="stroke:#4d4d4d;stroke-width:0.1px">6</text>
<text font-size="8.3" text-anchor="end" fill="#1e1e1e" transform="translate(412.2 570.3) scale(1 1)">OS</text>
<line x1="414.4" y1="567.3" x2="416.6" y2="567.3" stroke="#9a9a9a" stroke-width="0.9"/>
<line x1="453.1" y1="567.3" x2="479.6" y2="567.3" stroke="#333" stroke-width="1.1"/>
<line x1="453.1" y1="564.8" x2="453.1" y2="569.8" stroke="#333" stroke-width="1"/>
<line x1="479.6" y1="564.8" x2="479.6" y2="569.8" stroke="#333" stroke-width="1"/>
<circle cx="466.9" cy="567.3" r="1.7" fill="#000"/>
<text font-size="8.3" text-anchor="end" fill="#1e1e1e" transform="translate(412.2 580.2) scale(1 1)">PFS</text>
<line x1="414.4" y1="577.2" x2="416.6" y2="577.2" stroke="#9a9a9a" stroke-width="0.9"/>
<line x1="450.3" y1="577.2" x2="477.8" y2="577.2" stroke="#333" stroke-width="1.1"/>
<line x1="450.3" y1="574.7" x2="450.3" y2="579.7" stroke="#333" stroke-width="1"/>
<line x1="477.8" y1="574.7" x2="477.8" y2="579.7" stroke="#333" stroke-width="1"/>
<circle cx="466.2" cy="577.2" r="1.7" fill="#000"/>
<text font-size="8.3" text-anchor="end" fill="#1e1e1e" transform="translate(412.2 589.5) scale(1 1)">LRC</text>
<line x1="414.4" y1="586.5" x2="416.6" y2="586.5" stroke="#9a9a9a" stroke-width="0.9"/>
<line x1="429.3" y1="586.5" x2="482.6" y2="586.5" stroke="#333" stroke-width="1.1"/>
<line x1="429.3" y1="584" x2="429.3" y2="589" stroke="#333" stroke-width="1"/>
<line x1="482.6" y1="584" x2="482.6" y2="589" stroke="#333" stroke-width="1"/>
<circle cx="464.2" cy="586.5" r="1.7" fill="#000"/>
<text font-size="8.3" text-anchor="end" fill="#1e1e1e" transform="translate(412.2 599.6) scale(1 1)">DM</text>
<line x1="414.4" y1="596.6" x2="416.6" y2="596.6" stroke="#9a9a9a" stroke-width="0.9"/>
<line x1="416.6" y1="596.6" x2="483.5" y2="596.6" stroke="#333" stroke-width="1.1"/>
<line x1="483.5" y1="594.1" x2="483.5" y2="599.1" stroke="#333" stroke-width="1"/>
<circle cx="447.8" cy="596.6" r="1.7" fill="#000"/>
<text font-size="8.6" fill="#1e1e1e" transform="translate(416.8 483) scale(1 1.12)" textLength="38.3" lengthAdjust="spacingAndGlyphs">&#8805;200mg/m</text>
<text font-size="4.4" fill="#1e1e1e" transform="translate(455.2 479.6) scale(1 1.12)">2</text>
<text font-size="8.8" fill="#1e1e1e" transform="translate(458.8 483) scale(1 1.12)" textLength="31.2" lengthAdjust="spacingAndGlyphs">cisplatin</text>
<text font-size="8.6" fill="#1e1e1e" transform="translate(419.3 558.3) scale(1 1.12)" textLength="37.8" lengthAdjust="spacingAndGlyphs">&lt;200mg/m</text>
<text font-size="4.4" fill="#1e1e1e" transform="translate(457.2 554.9) scale(1 1.12)">2</text>
<text font-size="8.8" fill="#1e1e1e" transform="translate(460.9 558.3) scale(1 1.12)" textLength="31.2" lengthAdjust="spacingAndGlyphs">cisplatin</text>
<text font-size="8" text-anchor="middle" fill="#1e1e1e" transform="translate(468.6 627.8) scale(1 1.18)">Hazard Ratio (95% CI)</text>
</svg></body></html>
